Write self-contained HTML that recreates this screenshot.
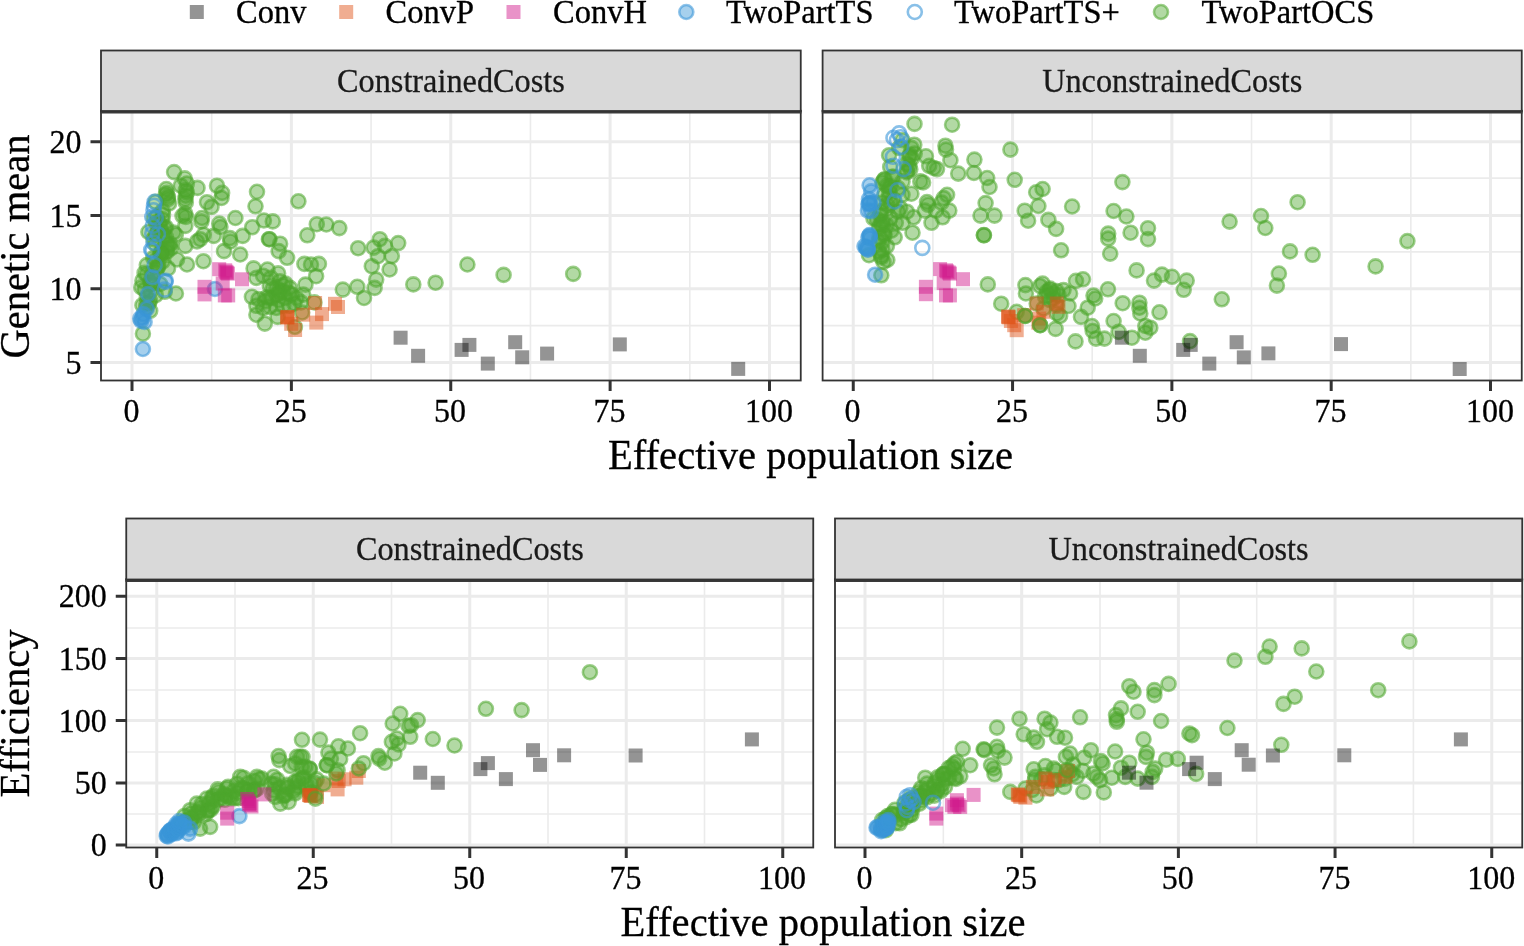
<!DOCTYPE html>
<html lang="en"><head><meta charset="utf-8"><title>Genetic mean and efficiency vs effective population size</title>
<style>html,body{margin:0;padding:0;background:#fff;}body{width:1524px;height:946px;overflow:hidden;}svg{display:block;}</style></head>
<body>
<svg width="1524" height="946" viewBox="0 0 1524 946" font-family="'Liberation Serif', serif">
<rect width="1524" height="946" fill="#fff"/>
<g id="panelA">
<rect x="101.0" y="111.0" width="699.75" height="269.5" fill="#fff"/>
<line x1="101.0" x2="800.75" y1="325.62" y2="325.62" stroke="#ebebeb" stroke-width="1.6"/>
<line x1="101.0" x2="800.75" y1="251.88" y2="251.88" stroke="#ebebeb" stroke-width="1.6"/>
<line x1="101.0" x2="800.75" y1="178.12" y2="178.12" stroke="#ebebeb" stroke-width="1.6"/>
<line x1="211.69" x2="211.69" y1="111.0" y2="380.5" stroke="#ebebeb" stroke-width="1.6"/>
<line x1="371.06" x2="371.06" y1="111.0" y2="380.5" stroke="#ebebeb" stroke-width="1.6"/>
<line x1="530.44" x2="530.44" y1="111.0" y2="380.5" stroke="#ebebeb" stroke-width="1.6"/>
<line x1="689.81" x2="689.81" y1="111.0" y2="380.5" stroke="#ebebeb" stroke-width="1.6"/>
<line x1="101.0" x2="800.75" y1="362.50" y2="362.50" stroke="#ebebeb" stroke-width="3"/>
<line x1="101.0" x2="800.75" y1="288.75" y2="288.75" stroke="#ebebeb" stroke-width="3"/>
<line x1="101.0" x2="800.75" y1="215.50" y2="215.50" stroke="#ebebeb" stroke-width="3"/>
<line x1="101.0" x2="800.75" y1="141.75" y2="141.75" stroke="#ebebeb" stroke-width="3"/>
<line x1="132.00" x2="132.00" y1="111.0" y2="380.5" stroke="#ebebeb" stroke-width="3"/>
<line x1="291.38" x2="291.38" y1="111.0" y2="380.5" stroke="#ebebeb" stroke-width="3"/>
<line x1="450.75" x2="450.75" y1="111.0" y2="380.5" stroke="#ebebeb" stroke-width="3"/>
<line x1="610.12" x2="610.12" y1="111.0" y2="380.5" stroke="#ebebeb" stroke-width="3"/>
<line x1="769.50" x2="769.50" y1="111.0" y2="380.5" stroke="#ebebeb" stroke-width="3"/>
<g id="ptsA">
<circle cx="573.2" cy="273.9" r="7.0" fill="#4DA62C" fill-opacity="0.43" stroke="#4DA62C" stroke-opacity="0.55" stroke-width="2.6"/>
<circle cx="174.1" cy="172.1" r="7.0" fill="#4DA62C" fill-opacity="0.43" stroke="#4DA62C" stroke-opacity="0.55" stroke-width="2.6"/>
<circle cx="184.7" cy="178.4" r="7.0" fill="#4DA62C" fill-opacity="0.43" stroke="#4DA62C" stroke-opacity="0.55" stroke-width="2.6"/>
<circle cx="197.5" cy="187.9" r="7.0" fill="#4DA62C" fill-opacity="0.43" stroke="#4DA62C" stroke-opacity="0.55" stroke-width="2.6"/>
<circle cx="166.3" cy="189.0" r="7.0" fill="#4DA62C" fill-opacity="0.43" stroke="#4DA62C" stroke-opacity="0.55" stroke-width="2.6"/>
<circle cx="166.8" cy="192.9" r="7.0" fill="#4DA62C" fill-opacity="0.43" stroke="#4DA62C" stroke-opacity="0.55" stroke-width="2.6"/>
<circle cx="180.8" cy="185.7" r="7.0" fill="#4DA62C" fill-opacity="0.43" stroke="#4DA62C" stroke-opacity="0.55" stroke-width="2.6"/>
<circle cx="185.8" cy="190.2" r="7.0" fill="#4DA62C" fill-opacity="0.43" stroke="#4DA62C" stroke-opacity="0.55" stroke-width="2.6"/>
<circle cx="217.0" cy="185.7" r="7.0" fill="#4DA62C" fill-opacity="0.43" stroke="#4DA62C" stroke-opacity="0.55" stroke-width="2.6"/>
<circle cx="222.1" cy="192.9" r="7.0" fill="#4DA62C" fill-opacity="0.43" stroke="#4DA62C" stroke-opacity="0.55" stroke-width="2.6"/>
<circle cx="221.5" cy="198.0" r="7.0" fill="#4DA62C" fill-opacity="0.43" stroke="#4DA62C" stroke-opacity="0.55" stroke-width="2.6"/>
<circle cx="257.0" cy="191.8" r="7.0" fill="#4DA62C" fill-opacity="0.43" stroke="#4DA62C" stroke-opacity="0.55" stroke-width="2.6"/>
<circle cx="255.5" cy="206.3" r="7.0" fill="#4DA62C" fill-opacity="0.43" stroke="#4DA62C" stroke-opacity="0.55" stroke-width="2.6"/>
<circle cx="207.0" cy="202.2" r="7.0" fill="#4DA62C" fill-opacity="0.43" stroke="#4DA62C" stroke-opacity="0.55" stroke-width="2.6"/>
<circle cx="211.5" cy="206.9" r="7.0" fill="#4DA62C" fill-opacity="0.43" stroke="#4DA62C" stroke-opacity="0.55" stroke-width="2.6"/>
<circle cx="185.8" cy="195.7" r="7.0" fill="#4DA62C" fill-opacity="0.43" stroke="#4DA62C" stroke-opacity="0.55" stroke-width="2.6"/>
<circle cx="185.8" cy="202.4" r="7.0" fill="#4DA62C" fill-opacity="0.43" stroke="#4DA62C" stroke-opacity="0.55" stroke-width="2.6"/>
<circle cx="168.0" cy="199.1" r="7.0" fill="#4DA62C" fill-opacity="0.43" stroke="#4DA62C" stroke-opacity="0.55" stroke-width="2.6"/>
<circle cx="169.1" cy="203.5" r="7.0" fill="#4DA62C" fill-opacity="0.43" stroke="#4DA62C" stroke-opacity="0.55" stroke-width="2.6"/>
<circle cx="185.3" cy="213.6" r="7.0" fill="#4DA62C" fill-opacity="0.43" stroke="#4DA62C" stroke-opacity="0.55" stroke-width="2.6"/>
<circle cx="185.8" cy="216.9" r="7.0" fill="#4DA62C" fill-opacity="0.43" stroke="#4DA62C" stroke-opacity="0.55" stroke-width="2.6"/>
<circle cx="182.5" cy="215.8" r="7.0" fill="#4DA62C" fill-opacity="0.43" stroke="#4DA62C" stroke-opacity="0.55" stroke-width="2.6"/>
<circle cx="202.0" cy="218.0" r="7.0" fill="#4DA62C" fill-opacity="0.43" stroke="#4DA62C" stroke-opacity="0.55" stroke-width="2.6"/>
<circle cx="201.4" cy="221.4" r="7.0" fill="#4DA62C" fill-opacity="0.43" stroke="#4DA62C" stroke-opacity="0.55" stroke-width="2.6"/>
<circle cx="235.4" cy="218.0" r="7.0" fill="#4DA62C" fill-opacity="0.43" stroke="#4DA62C" stroke-opacity="0.55" stroke-width="2.6"/>
<circle cx="219.3" cy="223.6" r="7.0" fill="#4DA62C" fill-opacity="0.43" stroke="#4DA62C" stroke-opacity="0.55" stroke-width="2.6"/>
<circle cx="220.4" cy="227.0" r="7.0" fill="#4DA62C" fill-opacity="0.43" stroke="#4DA62C" stroke-opacity="0.55" stroke-width="2.6"/>
<circle cx="185.3" cy="225.9" r="7.0" fill="#4DA62C" fill-opacity="0.43" stroke="#4DA62C" stroke-opacity="0.55" stroke-width="2.6"/>
<circle cx="263.9" cy="220.5" r="7.0" fill="#4DA62C" fill-opacity="0.43" stroke="#4DA62C" stroke-opacity="0.55" stroke-width="2.6"/>
<circle cx="272.8" cy="221.4" r="7.0" fill="#4DA62C" fill-opacity="0.43" stroke="#4DA62C" stroke-opacity="0.55" stroke-width="2.6"/>
<circle cx="252.2" cy="227.2" r="7.0" fill="#4DA62C" fill-opacity="0.43" stroke="#4DA62C" stroke-opacity="0.55" stroke-width="2.6"/>
<circle cx="242.7" cy="235.9" r="7.0" fill="#4DA62C" fill-opacity="0.43" stroke="#4DA62C" stroke-opacity="0.55" stroke-width="2.6"/>
<circle cx="229.9" cy="238.1" r="7.0" fill="#4DA62C" fill-opacity="0.43" stroke="#4DA62C" stroke-opacity="0.55" stroke-width="2.6"/>
<circle cx="230.4" cy="241.5" r="7.0" fill="#4DA62C" fill-opacity="0.43" stroke="#4DA62C" stroke-opacity="0.55" stroke-width="2.6"/>
<circle cx="213.7" cy="235.9" r="7.0" fill="#4DA62C" fill-opacity="0.43" stroke="#4DA62C" stroke-opacity="0.55" stroke-width="2.6"/>
<circle cx="203.7" cy="234.8" r="7.0" fill="#4DA62C" fill-opacity="0.43" stroke="#4DA62C" stroke-opacity="0.55" stroke-width="2.6"/>
<circle cx="200.3" cy="239.2" r="7.0" fill="#4DA62C" fill-opacity="0.43" stroke="#4DA62C" stroke-opacity="0.55" stroke-width="2.6"/>
<circle cx="197.0" cy="241.5" r="7.0" fill="#4DA62C" fill-opacity="0.43" stroke="#4DA62C" stroke-opacity="0.55" stroke-width="2.6"/>
<circle cx="268.9" cy="239.2" r="7.0" fill="#4DA62C" fill-opacity="0.43" stroke="#4DA62C" stroke-opacity="0.55" stroke-width="2.6"/>
<circle cx="269.5" cy="239.2" r="7.0" fill="#4DA62C" fill-opacity="0.43" stroke="#4DA62C" stroke-opacity="0.55" stroke-width="2.6"/>
<circle cx="280.1" cy="243.7" r="7.0" fill="#4DA62C" fill-opacity="0.43" stroke="#4DA62C" stroke-opacity="0.55" stroke-width="2.6"/>
<circle cx="185.3" cy="245.9" r="7.0" fill="#4DA62C" fill-opacity="0.43" stroke="#4DA62C" stroke-opacity="0.55" stroke-width="2.6"/>
<circle cx="175.8" cy="234.8" r="7.0" fill="#4DA62C" fill-opacity="0.43" stroke="#4DA62C" stroke-opacity="0.55" stroke-width="2.6"/>
<circle cx="173.5" cy="232.5" r="7.0" fill="#4DA62C" fill-opacity="0.43" stroke="#4DA62C" stroke-opacity="0.55" stroke-width="2.6"/>
<circle cx="148.4" cy="232.0" r="7.0" fill="#4DA62C" fill-opacity="0.43" stroke="#4DA62C" stroke-opacity="0.55" stroke-width="2.6"/>
<circle cx="156.8" cy="216.9" r="7.0" fill="#4DA62C" fill-opacity="0.43" stroke="#4DA62C" stroke-opacity="0.55" stroke-width="2.6"/>
<circle cx="159.0" cy="222.5" r="7.0" fill="#4DA62C" fill-opacity="0.43" stroke="#4DA62C" stroke-opacity="0.55" stroke-width="2.6"/>
<circle cx="162.4" cy="219.2" r="7.0" fill="#4DA62C" fill-opacity="0.43" stroke="#4DA62C" stroke-opacity="0.55" stroke-width="2.6"/>
<circle cx="164.6" cy="228.1" r="7.0" fill="#4DA62C" fill-opacity="0.43" stroke="#4DA62C" stroke-opacity="0.55" stroke-width="2.6"/>
<circle cx="157.9" cy="230.3" r="7.0" fill="#4DA62C" fill-opacity="0.43" stroke="#4DA62C" stroke-opacity="0.55" stroke-width="2.6"/>
<circle cx="155.7" cy="234.8" r="7.0" fill="#4DA62C" fill-opacity="0.43" stroke="#4DA62C" stroke-opacity="0.55" stroke-width="2.6"/>
<circle cx="153.5" cy="239.2" r="7.0" fill="#4DA62C" fill-opacity="0.43" stroke="#4DA62C" stroke-opacity="0.55" stroke-width="2.6"/>
<circle cx="166.8" cy="248.2" r="7.0" fill="#4DA62C" fill-opacity="0.43" stroke="#4DA62C" stroke-opacity="0.55" stroke-width="2.6"/>
<circle cx="170.2" cy="243.7" r="7.0" fill="#4DA62C" fill-opacity="0.43" stroke="#4DA62C" stroke-opacity="0.55" stroke-width="2.6"/>
<circle cx="155.7" cy="201.9" r="7.0" fill="#4DA62C" fill-opacity="0.43" stroke="#4DA62C" stroke-opacity="0.55" stroke-width="2.6"/>
<circle cx="142.9" cy="333.7" r="7.0" fill="#4DA62C" fill-opacity="0.43" stroke="#4DA62C" stroke-opacity="0.55" stroke-width="2.6"/>
<circle cx="175.9" cy="293.5" r="7.0" fill="#4DA62C" fill-opacity="0.43" stroke="#4DA62C" stroke-opacity="0.55" stroke-width="2.6"/>
<circle cx="187.0" cy="264.5" r="7.0" fill="#4DA62C" fill-opacity="0.43" stroke="#4DA62C" stroke-opacity="0.55" stroke-width="2.6"/>
<circle cx="177.0" cy="259.5" r="7.0" fill="#4DA62C" fill-opacity="0.43" stroke="#4DA62C" stroke-opacity="0.55" stroke-width="2.6"/>
<circle cx="168.0" cy="268.4" r="7.0" fill="#4DA62C" fill-opacity="0.43" stroke="#4DA62C" stroke-opacity="0.55" stroke-width="2.6"/>
<circle cx="146.8" cy="265.1" r="7.0" fill="#4DA62C" fill-opacity="0.43" stroke="#4DA62C" stroke-opacity="0.55" stroke-width="2.6"/>
<circle cx="144.6" cy="272.9" r="7.0" fill="#4DA62C" fill-opacity="0.43" stroke="#4DA62C" stroke-opacity="0.55" stroke-width="2.6"/>
<circle cx="142.4" cy="280.7" r="7.0" fill="#4DA62C" fill-opacity="0.43" stroke="#4DA62C" stroke-opacity="0.55" stroke-width="2.6"/>
<circle cx="144.6" cy="289.6" r="7.0" fill="#4DA62C" fill-opacity="0.43" stroke="#4DA62C" stroke-opacity="0.55" stroke-width="2.6"/>
<circle cx="146.8" cy="297.4" r="7.0" fill="#4DA62C" fill-opacity="0.43" stroke="#4DA62C" stroke-opacity="0.55" stroke-width="2.6"/>
<circle cx="142.4" cy="305.2" r="7.0" fill="#4DA62C" fill-opacity="0.43" stroke="#4DA62C" stroke-opacity="0.55" stroke-width="2.6"/>
<circle cx="150.2" cy="310.8" r="7.0" fill="#4DA62C" fill-opacity="0.43" stroke="#4DA62C" stroke-opacity="0.55" stroke-width="2.6"/>
<circle cx="155.8" cy="259.5" r="7.0" fill="#4DA62C" fill-opacity="0.43" stroke="#4DA62C" stroke-opacity="0.55" stroke-width="2.6"/>
<circle cx="162.5" cy="255.0" r="7.0" fill="#4DA62C" fill-opacity="0.43" stroke="#4DA62C" stroke-opacity="0.55" stroke-width="2.6"/>
<circle cx="166.9" cy="251.7" r="7.0" fill="#4DA62C" fill-opacity="0.43" stroke="#4DA62C" stroke-opacity="0.55" stroke-width="2.6"/>
<circle cx="152.4" cy="272.9" r="7.0" fill="#4DA62C" fill-opacity="0.43" stroke="#4DA62C" stroke-opacity="0.55" stroke-width="2.6"/>
<circle cx="150.2" cy="281.8" r="7.0" fill="#4DA62C" fill-opacity="0.43" stroke="#4DA62C" stroke-opacity="0.55" stroke-width="2.6"/>
<circle cx="158.0" cy="267.3" r="7.0" fill="#4DA62C" fill-opacity="0.43" stroke="#4DA62C" stroke-opacity="0.55" stroke-width="2.6"/>
<circle cx="162.5" cy="261.7" r="7.0" fill="#4DA62C" fill-opacity="0.43" stroke="#4DA62C" stroke-opacity="0.55" stroke-width="2.6"/>
<circle cx="155.8" cy="295.2" r="7.0" fill="#4DA62C" fill-opacity="0.43" stroke="#4DA62C" stroke-opacity="0.55" stroke-width="2.6"/>
<circle cx="149.1" cy="303.0" r="7.0" fill="#4DA62C" fill-opacity="0.43" stroke="#4DA62C" stroke-opacity="0.55" stroke-width="2.6"/>
<circle cx="141.3" cy="287.4" r="7.0" fill="#4DA62C" fill-opacity="0.43" stroke="#4DA62C" stroke-opacity="0.55" stroke-width="2.6"/>
<circle cx="160.2" cy="284.0" r="7.0" fill="#4DA62C" fill-opacity="0.43" stroke="#4DA62C" stroke-opacity="0.55" stroke-width="2.6"/>
<circle cx="164.7" cy="291.8" r="7.0" fill="#4DA62C" fill-opacity="0.43" stroke="#4DA62C" stroke-opacity="0.55" stroke-width="2.6"/>
<circle cx="253.6" cy="268.4" r="7.0" fill="#4DA62C" fill-opacity="0.43" stroke="#4DA62C" stroke-opacity="0.55" stroke-width="2.6"/>
<circle cx="267.5" cy="269.5" r="7.0" fill="#4DA62C" fill-opacity="0.43" stroke="#4DA62C" stroke-opacity="0.55" stroke-width="2.6"/>
<circle cx="278.1" cy="273.4" r="7.0" fill="#4DA62C" fill-opacity="0.43" stroke="#4DA62C" stroke-opacity="0.55" stroke-width="2.6"/>
<circle cx="256.4" cy="277.9" r="7.0" fill="#4DA62C" fill-opacity="0.43" stroke="#4DA62C" stroke-opacity="0.55" stroke-width="2.6"/>
<circle cx="263.1" cy="275.7" r="7.0" fill="#4DA62C" fill-opacity="0.43" stroke="#4DA62C" stroke-opacity="0.55" stroke-width="2.6"/>
<circle cx="270.9" cy="277.9" r="7.0" fill="#4DA62C" fill-opacity="0.43" stroke="#4DA62C" stroke-opacity="0.55" stroke-width="2.6"/>
<circle cx="279.8" cy="281.2" r="7.0" fill="#4DA62C" fill-opacity="0.43" stroke="#4DA62C" stroke-opacity="0.55" stroke-width="2.6"/>
<circle cx="285.4" cy="283.5" r="7.0" fill="#4DA62C" fill-opacity="0.43" stroke="#4DA62C" stroke-opacity="0.55" stroke-width="2.6"/>
<circle cx="269.8" cy="285.7" r="7.0" fill="#4DA62C" fill-opacity="0.43" stroke="#4DA62C" stroke-opacity="0.55" stroke-width="2.6"/>
<circle cx="276.5" cy="287.9" r="7.0" fill="#4DA62C" fill-opacity="0.43" stroke="#4DA62C" stroke-opacity="0.55" stroke-width="2.6"/>
<circle cx="283.2" cy="291.3" r="7.0" fill="#4DA62C" fill-opacity="0.43" stroke="#4DA62C" stroke-opacity="0.55" stroke-width="2.6"/>
<circle cx="289.9" cy="287.9" r="7.0" fill="#4DA62C" fill-opacity="0.43" stroke="#4DA62C" stroke-opacity="0.55" stroke-width="2.6"/>
<circle cx="251.9" cy="296.8" r="7.0" fill="#4DA62C" fill-opacity="0.43" stroke="#4DA62C" stroke-opacity="0.55" stroke-width="2.6"/>
<circle cx="258.6" cy="299.1" r="7.0" fill="#4DA62C" fill-opacity="0.43" stroke="#4DA62C" stroke-opacity="0.55" stroke-width="2.6"/>
<circle cx="265.3" cy="301.3" r="7.0" fill="#4DA62C" fill-opacity="0.43" stroke="#4DA62C" stroke-opacity="0.55" stroke-width="2.6"/>
<circle cx="272.0" cy="298.0" r="7.0" fill="#4DA62C" fill-opacity="0.43" stroke="#4DA62C" stroke-opacity="0.55" stroke-width="2.6"/>
<circle cx="278.7" cy="300.2" r="7.0" fill="#4DA62C" fill-opacity="0.43" stroke="#4DA62C" stroke-opacity="0.55" stroke-width="2.6"/>
<circle cx="285.4" cy="298.0" r="7.0" fill="#4DA62C" fill-opacity="0.43" stroke="#4DA62C" stroke-opacity="0.55" stroke-width="2.6"/>
<circle cx="292.1" cy="294.6" r="7.0" fill="#4DA62C" fill-opacity="0.43" stroke="#4DA62C" stroke-opacity="0.55" stroke-width="2.6"/>
<circle cx="296.5" cy="298.0" r="7.0" fill="#4DA62C" fill-opacity="0.43" stroke="#4DA62C" stroke-opacity="0.55" stroke-width="2.6"/>
<circle cx="303.2" cy="294.6" r="7.0" fill="#4DA62C" fill-opacity="0.43" stroke="#4DA62C" stroke-opacity="0.55" stroke-width="2.6"/>
<circle cx="301.0" cy="302.4" r="7.0" fill="#4DA62C" fill-opacity="0.43" stroke="#4DA62C" stroke-opacity="0.55" stroke-width="2.6"/>
<circle cx="294.3" cy="303.5" r="7.0" fill="#4DA62C" fill-opacity="0.43" stroke="#4DA62C" stroke-opacity="0.55" stroke-width="2.6"/>
<circle cx="256.4" cy="305.8" r="7.0" fill="#4DA62C" fill-opacity="0.43" stroke="#4DA62C" stroke-opacity="0.55" stroke-width="2.6"/>
<circle cx="263.1" cy="308.0" r="7.0" fill="#4DA62C" fill-opacity="0.43" stroke="#4DA62C" stroke-opacity="0.55" stroke-width="2.6"/>
<circle cx="269.8" cy="306.9" r="7.0" fill="#4DA62C" fill-opacity="0.43" stroke="#4DA62C" stroke-opacity="0.55" stroke-width="2.6"/>
<circle cx="276.5" cy="308.0" r="7.0" fill="#4DA62C" fill-opacity="0.43" stroke="#4DA62C" stroke-opacity="0.55" stroke-width="2.6"/>
<circle cx="283.2" cy="305.8" r="7.0" fill="#4DA62C" fill-opacity="0.43" stroke="#4DA62C" stroke-opacity="0.55" stroke-width="2.6"/>
<circle cx="256.4" cy="314.7" r="7.0" fill="#4DA62C" fill-opacity="0.43" stroke="#4DA62C" stroke-opacity="0.55" stroke-width="2.6"/>
<circle cx="264.8" cy="323.6" r="7.0" fill="#4DA62C" fill-opacity="0.43" stroke="#4DA62C" stroke-opacity="0.55" stroke-width="2.6"/>
<circle cx="277.6" cy="316.9" r="7.0" fill="#4DA62C" fill-opacity="0.43" stroke="#4DA62C" stroke-opacity="0.55" stroke-width="2.6"/>
<circle cx="289.3" cy="305.8" r="7.0" fill="#4DA62C" fill-opacity="0.43" stroke="#4DA62C" stroke-opacity="0.55" stroke-width="2.6"/>
<circle cx="305.5" cy="284.6" r="7.0" fill="#4DA62C" fill-opacity="0.43" stroke="#4DA62C" stroke-opacity="0.55" stroke-width="2.6"/>
<circle cx="316.1" cy="276.2" r="7.0" fill="#4DA62C" fill-opacity="0.43" stroke="#4DA62C" stroke-opacity="0.55" stroke-width="2.6"/>
<circle cx="304.4" cy="263.9" r="7.0" fill="#4DA62C" fill-opacity="0.43" stroke="#4DA62C" stroke-opacity="0.55" stroke-width="2.6"/>
<circle cx="311.0" cy="264.5" r="7.0" fill="#4DA62C" fill-opacity="0.43" stroke="#4DA62C" stroke-opacity="0.55" stroke-width="2.6"/>
<circle cx="318.9" cy="263.9" r="7.0" fill="#4DA62C" fill-opacity="0.43" stroke="#4DA62C" stroke-opacity="0.55" stroke-width="2.6"/>
<circle cx="287.1" cy="257.8" r="7.0" fill="#4DA62C" fill-opacity="0.43" stroke="#4DA62C" stroke-opacity="0.55" stroke-width="2.6"/>
<circle cx="278.7" cy="251.1" r="7.0" fill="#4DA62C" fill-opacity="0.43" stroke="#4DA62C" stroke-opacity="0.55" stroke-width="2.6"/>
<circle cx="240.2" cy="254.5" r="7.0" fill="#4DA62C" fill-opacity="0.43" stroke="#4DA62C" stroke-opacity="0.55" stroke-width="2.6"/>
<circle cx="224.0" cy="251.1" r="7.0" fill="#4DA62C" fill-opacity="0.43" stroke="#4DA62C" stroke-opacity="0.55" stroke-width="2.6"/>
<circle cx="203.4" cy="261.2" r="7.0" fill="#4DA62C" fill-opacity="0.43" stroke="#4DA62C" stroke-opacity="0.55" stroke-width="2.6"/>
<circle cx="342.8" cy="289.6" r="7.0" fill="#4DA62C" fill-opacity="0.43" stroke="#4DA62C" stroke-opacity="0.55" stroke-width="2.6"/>
<circle cx="294.9" cy="327.0" r="7.0" fill="#4DA62C" fill-opacity="0.43" stroke="#4DA62C" stroke-opacity="0.55" stroke-width="2.6"/>
<circle cx="302.1" cy="312.5" r="7.0" fill="#4DA62C" fill-opacity="0.43" stroke="#4DA62C" stroke-opacity="0.55" stroke-width="2.6"/>
<circle cx="314.4" cy="302.4" r="7.0" fill="#4DA62C" fill-opacity="0.43" stroke="#4DA62C" stroke-opacity="0.55" stroke-width="2.6"/>
<circle cx="298.4" cy="201.3" r="7.0" fill="#4DA62C" fill-opacity="0.43" stroke="#4DA62C" stroke-opacity="0.55" stroke-width="2.6"/>
<circle cx="316.8" cy="224.2" r="7.0" fill="#4DA62C" fill-opacity="0.43" stroke="#4DA62C" stroke-opacity="0.55" stroke-width="2.6"/>
<circle cx="326.3" cy="224.5" r="7.0" fill="#4DA62C" fill-opacity="0.43" stroke="#4DA62C" stroke-opacity="0.55" stroke-width="2.6"/>
<circle cx="339.3" cy="228.1" r="7.0" fill="#4DA62C" fill-opacity="0.43" stroke="#4DA62C" stroke-opacity="0.55" stroke-width="2.6"/>
<circle cx="307.3" cy="235.3" r="7.0" fill="#4DA62C" fill-opacity="0.43" stroke="#4DA62C" stroke-opacity="0.55" stroke-width="2.6"/>
<circle cx="358.1" cy="248.2" r="7.0" fill="#4DA62C" fill-opacity="0.43" stroke="#4DA62C" stroke-opacity="0.55" stroke-width="2.6"/>
<circle cx="373.7" cy="247.6" r="7.0" fill="#4DA62C" fill-opacity="0.43" stroke="#4DA62C" stroke-opacity="0.55" stroke-width="2.6"/>
<circle cx="379.8" cy="239.2" r="7.0" fill="#4DA62C" fill-opacity="0.43" stroke="#4DA62C" stroke-opacity="0.55" stroke-width="2.6"/>
<circle cx="384.9" cy="245.9" r="7.0" fill="#4DA62C" fill-opacity="0.43" stroke="#4DA62C" stroke-opacity="0.55" stroke-width="2.6"/>
<circle cx="398.2" cy="243.1" r="7.0" fill="#4DA62C" fill-opacity="0.43" stroke="#4DA62C" stroke-opacity="0.55" stroke-width="2.6"/>
<circle cx="371.8" cy="266.2" r="7.0" fill="#4DA62C" fill-opacity="0.43" stroke="#4DA62C" stroke-opacity="0.55" stroke-width="2.6"/>
<circle cx="377.9" cy="256.2" r="7.0" fill="#4DA62C" fill-opacity="0.43" stroke="#4DA62C" stroke-opacity="0.55" stroke-width="2.6"/>
<circle cx="391.8" cy="256.2" r="7.0" fill="#4DA62C" fill-opacity="0.43" stroke="#4DA62C" stroke-opacity="0.55" stroke-width="2.6"/>
<circle cx="389.6" cy="269.5" r="7.0" fill="#4DA62C" fill-opacity="0.43" stroke="#4DA62C" stroke-opacity="0.55" stroke-width="2.6"/>
<circle cx="376.2" cy="279.6" r="7.0" fill="#4DA62C" fill-opacity="0.43" stroke="#4DA62C" stroke-opacity="0.55" stroke-width="2.6"/>
<circle cx="374.6" cy="287.9" r="7.0" fill="#4DA62C" fill-opacity="0.43" stroke="#4DA62C" stroke-opacity="0.55" stroke-width="2.6"/>
<circle cx="357.3" cy="286.8" r="7.0" fill="#4DA62C" fill-opacity="0.43" stroke="#4DA62C" stroke-opacity="0.55" stroke-width="2.6"/>
<circle cx="364.0" cy="298.0" r="7.0" fill="#4DA62C" fill-opacity="0.43" stroke="#4DA62C" stroke-opacity="0.55" stroke-width="2.6"/>
<circle cx="413.3" cy="284.4" r="7.0" fill="#4DA62C" fill-opacity="0.43" stroke="#4DA62C" stroke-opacity="0.55" stroke-width="2.6"/>
<circle cx="435.6" cy="282.7" r="7.0" fill="#4DA62C" fill-opacity="0.43" stroke="#4DA62C" stroke-opacity="0.55" stroke-width="2.6"/>
<circle cx="467.4" cy="264.5" r="7.0" fill="#4DA62C" fill-opacity="0.43" stroke="#4DA62C" stroke-opacity="0.55" stroke-width="2.6"/>
<circle cx="503.6" cy="274.9" r="7.0" fill="#4DA62C" fill-opacity="0.43" stroke="#4DA62C" stroke-opacity="0.55" stroke-width="2.6"/>
<circle cx="162.7" cy="210.9" r="7.0" fill="#4DA62C" fill-opacity="0.43" stroke="#4DA62C" stroke-opacity="0.55" stroke-width="2.6"/>
<circle cx="163.0" cy="214.8" r="7.0" fill="#4DA62C" fill-opacity="0.43" stroke="#4DA62C" stroke-opacity="0.55" stroke-width="2.6"/>
<circle cx="153.8" cy="218.3" r="7.0" fill="#4DA62C" fill-opacity="0.43" stroke="#4DA62C" stroke-opacity="0.55" stroke-width="2.6"/>
<circle cx="156.1" cy="222.6" r="7.0" fill="#4DA62C" fill-opacity="0.43" stroke="#4DA62C" stroke-opacity="0.55" stroke-width="2.6"/>
<circle cx="160.1" cy="225.6" r="7.0" fill="#4DA62C" fill-opacity="0.43" stroke="#4DA62C" stroke-opacity="0.55" stroke-width="2.6"/>
<circle cx="166.0" cy="227.3" r="7.0" fill="#4DA62C" fill-opacity="0.43" stroke="#4DA62C" stroke-opacity="0.55" stroke-width="2.6"/>
<circle cx="161.9" cy="231.8" r="7.0" fill="#4DA62C" fill-opacity="0.43" stroke="#4DA62C" stroke-opacity="0.55" stroke-width="2.6"/>
<circle cx="163.4" cy="236.4" r="7.0" fill="#4DA62C" fill-opacity="0.43" stroke="#4DA62C" stroke-opacity="0.55" stroke-width="2.6"/>
<circle cx="165.8" cy="236.9" r="7.0" fill="#4DA62C" fill-opacity="0.43" stroke="#4DA62C" stroke-opacity="0.55" stroke-width="2.6"/>
<circle cx="155.5" cy="244.2" r="7.0" fill="#4DA62C" fill-opacity="0.43" stroke="#4DA62C" stroke-opacity="0.55" stroke-width="2.6"/>
<circle cx="167.4" cy="244.5" r="7.0" fill="#4DA62C" fill-opacity="0.43" stroke="#4DA62C" stroke-opacity="0.55" stroke-width="2.6"/>
<circle cx="170.9" cy="248.5" r="7.0" fill="#4DA62C" fill-opacity="0.43" stroke="#4DA62C" stroke-opacity="0.55" stroke-width="2.6"/>
<circle cx="161.4" cy="250.6" r="7.0" fill="#4DA62C" fill-opacity="0.43" stroke="#4DA62C" stroke-opacity="0.55" stroke-width="2.6"/>
<circle cx="160.7" cy="253.5" r="7.0" fill="#4DA62C" fill-opacity="0.43" stroke="#4DA62C" stroke-opacity="0.55" stroke-width="2.6"/>
<circle cx="165.7" cy="194.6" r="7.0" fill="#4DA62C" fill-opacity="0.43" stroke="#4DA62C" stroke-opacity="0.55" stroke-width="2.6"/>
<circle cx="168.0" cy="196.8" r="7.0" fill="#4DA62C" fill-opacity="0.43" stroke="#4DA62C" stroke-opacity="0.55" stroke-width="2.6"/>
<circle cx="186.9" cy="192.4" r="7.0" fill="#4DA62C" fill-opacity="0.43" stroke="#4DA62C" stroke-opacity="0.55" stroke-width="2.6"/>
<circle cx="185.3" cy="199.1" r="7.0" fill="#4DA62C" fill-opacity="0.43" stroke="#4DA62C" stroke-opacity="0.55" stroke-width="2.6"/>
<circle cx="186.9" cy="183.5" r="7.0" fill="#4DA62C" fill-opacity="0.43" stroke="#4DA62C" stroke-opacity="0.55" stroke-width="2.6"/>
<circle cx="169.0" cy="246.3" r="7.0" fill="#4DA62C" fill-opacity="0.43" stroke="#4DA62C" stroke-opacity="0.55" stroke-width="2.6"/>
<circle cx="161.2" cy="253.3" r="7.0" fill="#4DA62C" fill-opacity="0.43" stroke="#4DA62C" stroke-opacity="0.55" stroke-width="2.6"/>
<circle cx="160.4" cy="254.3" r="7.0" fill="#4DA62C" fill-opacity="0.43" stroke="#4DA62C" stroke-opacity="0.55" stroke-width="2.6"/>
<circle cx="153.2" cy="258.0" r="7.0" fill="#4DA62C" fill-opacity="0.43" stroke="#4DA62C" stroke-opacity="0.55" stroke-width="2.6"/>
<circle cx="158.3" cy="265.3" r="7.0" fill="#4DA62C" fill-opacity="0.43" stroke="#4DA62C" stroke-opacity="0.55" stroke-width="2.6"/>
<circle cx="156.7" cy="268.7" r="7.0" fill="#4DA62C" fill-opacity="0.43" stroke="#4DA62C" stroke-opacity="0.55" stroke-width="2.6"/>
<circle cx="146.7" cy="274.3" r="7.0" fill="#4DA62C" fill-opacity="0.43" stroke="#4DA62C" stroke-opacity="0.55" stroke-width="2.6"/>
<circle cx="152.7" cy="276.5" r="7.0" fill="#4DA62C" fill-opacity="0.43" stroke="#4DA62C" stroke-opacity="0.55" stroke-width="2.6"/>
<circle cx="151.1" cy="283.9" r="7.0" fill="#4DA62C" fill-opacity="0.43" stroke="#4DA62C" stroke-opacity="0.55" stroke-width="2.6"/>
<circle cx="151.6" cy="283.8" r="7.0" fill="#4DA62C" fill-opacity="0.43" stroke="#4DA62C" stroke-opacity="0.55" stroke-width="2.6"/>
<circle cx="150.4" cy="291.1" r="7.0" fill="#4DA62C" fill-opacity="0.43" stroke="#4DA62C" stroke-opacity="0.55" stroke-width="2.6"/>
<circle cx="150.0" cy="300.3" r="7.0" fill="#4DA62C" fill-opacity="0.43" stroke="#4DA62C" stroke-opacity="0.55" stroke-width="2.6"/>
<circle cx="146.5" cy="303.6" r="7.0" fill="#4DA62C" fill-opacity="0.43" stroke="#4DA62C" stroke-opacity="0.55" stroke-width="2.6"/>
<circle cx="146.2" cy="307.8" r="7.0" fill="#4DA62C" fill-opacity="0.43" stroke="#4DA62C" stroke-opacity="0.55" stroke-width="2.6"/>
<circle cx="266.7" cy="297.3" r="7.0" fill="#4DA62C" fill-opacity="0.43" stroke="#4DA62C" stroke-opacity="0.55" stroke-width="2.6"/>
<circle cx="269.4" cy="297.7" r="7.0" fill="#4DA62C" fill-opacity="0.43" stroke="#4DA62C" stroke-opacity="0.55" stroke-width="2.6"/>
<circle cx="272.9" cy="288.3" r="7.0" fill="#4DA62C" fill-opacity="0.43" stroke="#4DA62C" stroke-opacity="0.55" stroke-width="2.6"/>
<circle cx="277.0" cy="294.7" r="7.0" fill="#4DA62C" fill-opacity="0.43" stroke="#4DA62C" stroke-opacity="0.55" stroke-width="2.6"/>
<circle cx="279.6" cy="293.5" r="7.0" fill="#4DA62C" fill-opacity="0.43" stroke="#4DA62C" stroke-opacity="0.55" stroke-width="2.6"/>
<circle cx="279.2" cy="290.6" r="7.0" fill="#4DA62C" fill-opacity="0.43" stroke="#4DA62C" stroke-opacity="0.55" stroke-width="2.6"/>
<circle cx="283.7" cy="285.6" r="7.0" fill="#4DA62C" fill-opacity="0.43" stroke="#4DA62C" stroke-opacity="0.55" stroke-width="2.6"/>
<circle cx="288.9" cy="293.1" r="7.0" fill="#4DA62C" fill-opacity="0.43" stroke="#4DA62C" stroke-opacity="0.55" stroke-width="2.6"/>
<circle cx="214.9" cy="289.0" r="7.0" fill="#3A96D8" fill-opacity="0.45" stroke="#3A96D8" stroke-opacity="0.57" stroke-width="2.6"/>
<rect x="393.6" y="330.7" width="14.0" height="14.0" fill="#000000" fill-opacity="0.42"/>
<rect x="411.1" y="348.8" width="14.0" height="14.0" fill="#000000" fill-opacity="0.42"/>
<rect x="454.6" y="342.9" width="14.0" height="14.0" fill="#000000" fill-opacity="0.42"/>
<rect x="462.4" y="337.9" width="14.0" height="14.0" fill="#000000" fill-opacity="0.42"/>
<rect x="480.8" y="356.6" width="14.0" height="14.0" fill="#000000" fill-opacity="0.42"/>
<rect x="508.2" y="335.2" width="14.0" height="14.0" fill="#000000" fill-opacity="0.42"/>
<rect x="515.2" y="350.3" width="14.0" height="14.0" fill="#000000" fill-opacity="0.42"/>
<rect x="540.1" y="346.6" width="14.0" height="14.0" fill="#000000" fill-opacity="0.42"/>
<rect x="612.8" y="337.4" width="14.0" height="14.0" fill="#000000" fill-opacity="0.42"/>
<rect x="731.2" y="361.9" width="14.0" height="14.0" fill="#000000" fill-opacity="0.42"/>
<rect x="280.3" y="310.5" width="14.0" height="14.0" fill="#E0541A" fill-opacity="0.48"/>
<rect x="280.6" y="309.9" width="14.0" height="14.0" fill="#E0541A" fill-opacity="0.48"/>
<rect x="280.1" y="310.3" width="14.0" height="14.0" fill="#E0541A" fill-opacity="0.48"/>
<rect x="284.2" y="316.8" width="14.0" height="14.0" fill="#E0541A" fill-opacity="0.48"/>
<rect x="288.1" y="323.0" width="14.0" height="14.0" fill="#E0541A" fill-opacity="0.48"/>
<rect x="296.2" y="307.7" width="14.0" height="14.0" fill="#E0541A" fill-opacity="0.48"/>
<rect x="308.1" y="296.0" width="14.0" height="14.0" fill="#E0541A" fill-opacity="0.48"/>
<rect x="315.0" y="307.1" width="14.0" height="14.0" fill="#E0541A" fill-opacity="0.48"/>
<rect x="309.3" y="315.6" width="14.0" height="14.0" fill="#E0541A" fill-opacity="0.48"/>
<rect x="328.0" y="296.8" width="14.0" height="14.0" fill="#E0541A" fill-opacity="0.48"/>
<rect x="331.0" y="300.0" width="14.0" height="14.0" fill="#E0541A" fill-opacity="0.48"/>
<rect x="212.2" y="262.2" width="14.0" height="14.0" fill="#D01C8B" fill-opacity="0.48"/>
<rect x="218.2" y="263.3" width="14.0" height="14.0" fill="#D01C8B" fill-opacity="0.48"/>
<rect x="220.9" y="266.6" width="14.0" height="14.0" fill="#D01C8B" fill-opacity="0.48"/>
<rect x="219.3" y="264.8" width="14.0" height="14.0" fill="#D01C8B" fill-opacity="0.48"/>
<rect x="219.8" y="265.9" width="14.0" height="14.0" fill="#D01C8B" fill-opacity="0.48"/>
<rect x="235.0" y="272.3" width="14.0" height="14.0" fill="#D01C8B" fill-opacity="0.48"/>
<rect x="197.5" y="279.8" width="14.0" height="14.0" fill="#D01C8B" fill-opacity="0.48"/>
<rect x="197.5" y="287.4" width="14.0" height="14.0" fill="#D01C8B" fill-opacity="0.48"/>
<rect x="215.7" y="276.5" width="14.0" height="14.0" fill="#D01C8B" fill-opacity="0.48"/>
<rect x="217.8" y="288.4" width="14.0" height="14.0" fill="#D01C8B" fill-opacity="0.48"/>
<rect x="221.2" y="288.4" width="14.0" height="14.0" fill="#D01C8B" fill-opacity="0.48"/>
<circle cx="142.4" cy="317.5" r="7.0" fill="#3A96D8" fill-opacity="0.45" stroke="#3A96D8" stroke-opacity="0.57" stroke-width="2.6"/>
<circle cx="141.3" cy="320.9" r="7.0" fill="#3A96D8" fill-opacity="0.45" stroke="#3A96D8" stroke-opacity="0.57" stroke-width="2.6"/>
<circle cx="143.5" cy="314.2" r="7.0" fill="#3A96D8" fill-opacity="0.45" stroke="#3A96D8" stroke-opacity="0.57" stroke-width="2.6"/>
<circle cx="144.6" cy="322.0" r="7.0" fill="#3A96D8" fill-opacity="0.45" stroke="#3A96D8" stroke-opacity="0.57" stroke-width="2.6"/>
<circle cx="140.2" cy="318.6" r="7.0" fill="#3A96D8" fill-opacity="0.45" stroke="#3A96D8" stroke-opacity="0.57" stroke-width="2.6"/>
<circle cx="146.8" cy="308.6" r="7.0" fill="#3A96D8" fill-opacity="0.45" stroke="#3A96D8" stroke-opacity="0.57" stroke-width="2.6"/>
<circle cx="148.0" cy="294.1" r="7.0" fill="#3A96D8" fill-opacity="0.45" stroke="#3A96D8" stroke-opacity="0.57" stroke-width="2.6"/>
<circle cx="152.4" cy="277.3" r="7.0" fill="#3A96D8" fill-opacity="0.45" stroke="#3A96D8" stroke-opacity="0.57" stroke-width="2.6"/>
<circle cx="165.8" cy="280.7" r="7.0" fill="#3A96D8" fill-opacity="0.45" stroke="#3A96D8" stroke-opacity="0.57" stroke-width="2.6"/>
<circle cx="142.9" cy="349.0" r="7.0" fill="#3A96D8" fill-opacity="0.45" stroke="#3A96D8" stroke-opacity="0.57" stroke-width="2.6"/>
<circle cx="154.6" cy="201.9" r="7.0" fill="none" stroke="#3A96D8" stroke-opacity="0.6" stroke-width="2.6"/>
<circle cx="153.5" cy="210.2" r="7.0" fill="none" stroke="#3A96D8" stroke-opacity="0.6" stroke-width="2.6"/>
<circle cx="152.3" cy="216.9" r="7.0" fill="none" stroke="#3A96D8" stroke-opacity="0.6" stroke-width="2.6"/>
<circle cx="155.7" cy="218.0" r="7.0" fill="none" stroke="#3A96D8" stroke-opacity="0.6" stroke-width="2.6"/>
<circle cx="152.3" cy="233.7" r="7.0" fill="none" stroke="#3A96D8" stroke-opacity="0.6" stroke-width="2.6"/>
<circle cx="157.9" cy="234.2" r="7.0" fill="none" stroke="#3A96D8" stroke-opacity="0.6" stroke-width="2.6"/>
<circle cx="151.2" cy="249.8" r="7.0" fill="none" stroke="#3A96D8" stroke-opacity="0.6" stroke-width="2.6"/>
<circle cx="152.4" cy="250.6" r="7.0" fill="none" stroke="#3A96D8" stroke-opacity="0.6" stroke-width="2.6"/>
<circle cx="154.7" cy="265.1" r="7.0" fill="none" stroke="#3A96D8" stroke-opacity="0.6" stroke-width="2.6"/>
<circle cx="164.7" cy="289.6" r="7.0" fill="none" stroke="#3A96D8" stroke-opacity="0.6" stroke-width="2.6"/>
<circle cx="165.3" cy="281.8" r="7.0" fill="none" stroke="#3A96D8" stroke-opacity="0.6" stroke-width="2.6"/>
<circle cx="154.0" cy="205.8" r="7.0" fill="none" stroke="#3A96D8" stroke-opacity="0.6" stroke-width="2.6"/>
<circle cx="152.9" cy="225.9" r="7.0" fill="none" stroke="#3A96D8" stroke-opacity="0.6" stroke-width="2.6"/>
<circle cx="153.5" cy="242.6" r="7.0" fill="none" stroke="#3A96D8" stroke-opacity="0.6" stroke-width="2.6"/>
</g>
<rect x="101.0" y="111.0" width="699.75" height="269.5" fill="none" stroke="#333" stroke-width="1.8"/>
<line x1="100.2" x2="801.55" y1="111.6" y2="111.6" stroke="#3a3a3a" stroke-width="3.6"/>
<rect x="101.0" y="50.5" width="699.75" height="60.5" fill="#d9d9d9" stroke="#333" stroke-width="1.8"/>
<text transform="translate(450.9,91.5) scale(1,1.035)" font-size="32.3" text-anchor="middle" fill="#1a1a1a" stroke="#1a1a1a" stroke-width="0.25">ConstrainedCosts</text>
<line x1="132.00" x2="132.00" y1="380.5" y2="391.0" stroke="#333" stroke-width="3"/>
<text transform="translate(131.4,421.7) scale(1,1.06)" font-size="32" text-anchor="middle" fill="#000" stroke="#000" stroke-width="0.3">0</text>
<line x1="291.38" x2="291.38" y1="380.5" y2="391.0" stroke="#333" stroke-width="3"/>
<text transform="translate(290.8,421.7) scale(1,1.06)" font-size="32" text-anchor="middle" fill="#000" stroke="#000" stroke-width="0.3">25</text>
<line x1="450.75" x2="450.75" y1="380.5" y2="391.0" stroke="#333" stroke-width="3"/>
<text transform="translate(450.1,421.7) scale(1,1.06)" font-size="32" text-anchor="middle" fill="#000" stroke="#000" stroke-width="0.3">50</text>
<line x1="610.12" x2="610.12" y1="380.5" y2="391.0" stroke="#333" stroke-width="3"/>
<text transform="translate(609.5,421.7) scale(1,1.06)" font-size="32" text-anchor="middle" fill="#000" stroke="#000" stroke-width="0.3">75</text>
<line x1="769.50" x2="769.50" y1="380.5" y2="391.0" stroke="#333" stroke-width="3"/>
<text transform="translate(768.9,421.7) scale(1,1.06)" font-size="32" text-anchor="middle" fill="#000" stroke="#000" stroke-width="0.3">100</text>
<line x1="90.5" x2="101.0" y1="362.50" y2="362.50" stroke="#333" stroke-width="3"/>
<text transform="translate(81.5,373.6) scale(1,1.06)" font-size="32" text-anchor="end" fill="#000" stroke="#000" stroke-width="0.3">5</text>
<line x1="90.5" x2="101.0" y1="288.75" y2="288.75" stroke="#333" stroke-width="3"/>
<text transform="translate(81.5,299.9) scale(1,1.06)" font-size="32" text-anchor="end" fill="#000" stroke="#000" stroke-width="0.3">10</text>
<line x1="90.5" x2="101.0" y1="215.50" y2="215.50" stroke="#333" stroke-width="3"/>
<text transform="translate(81.5,226.6) scale(1,1.06)" font-size="32" text-anchor="end" fill="#000" stroke="#000" stroke-width="0.3">15</text>
<line x1="90.5" x2="101.0" y1="141.75" y2="141.75" stroke="#333" stroke-width="3"/>
<text transform="translate(81.5,152.8) scale(1,1.06)" font-size="32" text-anchor="end" fill="#000" stroke="#000" stroke-width="0.3">20</text>
</g>
<g id="panelB">
<rect x="822.6" y="111.0" width="699.15" height="269.5" fill="#fff"/>
<line x1="822.6" x2="1521.75" y1="325.62" y2="325.62" stroke="#ebebeb" stroke-width="1.6"/>
<line x1="822.6" x2="1521.75" y1="251.88" y2="251.88" stroke="#ebebeb" stroke-width="1.6"/>
<line x1="822.6" x2="1521.75" y1="178.12" y2="178.12" stroke="#ebebeb" stroke-width="1.6"/>
<line x1="932.91" x2="932.91" y1="111.0" y2="380.5" stroke="#ebebeb" stroke-width="1.6"/>
<line x1="1092.22" x2="1092.22" y1="111.0" y2="380.5" stroke="#ebebeb" stroke-width="1.6"/>
<line x1="1251.53" x2="1251.53" y1="111.0" y2="380.5" stroke="#ebebeb" stroke-width="1.6"/>
<line x1="1410.84" x2="1410.84" y1="111.0" y2="380.5" stroke="#ebebeb" stroke-width="1.6"/>
<line x1="822.6" x2="1521.75" y1="362.50" y2="362.50" stroke="#ebebeb" stroke-width="3"/>
<line x1="822.6" x2="1521.75" y1="288.75" y2="288.75" stroke="#ebebeb" stroke-width="3"/>
<line x1="822.6" x2="1521.75" y1="215.50" y2="215.50" stroke="#ebebeb" stroke-width="3"/>
<line x1="822.6" x2="1521.75" y1="141.75" y2="141.75" stroke="#ebebeb" stroke-width="3"/>
<line x1="853.25" x2="853.25" y1="111.0" y2="380.5" stroke="#ebebeb" stroke-width="3"/>
<line x1="1012.56" x2="1012.56" y1="111.0" y2="380.5" stroke="#ebebeb" stroke-width="3"/>
<line x1="1171.88" x2="1171.88" y1="111.0" y2="380.5" stroke="#ebebeb" stroke-width="3"/>
<line x1="1331.19" x2="1331.19" y1="111.0" y2="380.5" stroke="#ebebeb" stroke-width="3"/>
<line x1="1490.50" x2="1490.50" y1="111.0" y2="380.5" stroke="#ebebeb" stroke-width="3"/>
<g id="ptsB">
<circle cx="914.5" cy="123.9" r="7.0" fill="#4DA62C" fill-opacity="0.43" stroke="#4DA62C" stroke-opacity="0.55" stroke-width="2.6"/>
<circle cx="952.1" cy="124.7" r="7.0" fill="#4DA62C" fill-opacity="0.43" stroke="#4DA62C" stroke-opacity="0.55" stroke-width="2.6"/>
<circle cx="945.4" cy="145.7" r="7.0" fill="#4DA62C" fill-opacity="0.43" stroke="#4DA62C" stroke-opacity="0.55" stroke-width="2.6"/>
<circle cx="946.0" cy="149.6" r="7.0" fill="#4DA62C" fill-opacity="0.43" stroke="#4DA62C" stroke-opacity="0.55" stroke-width="2.6"/>
<circle cx="950.4" cy="160.2" r="7.0" fill="#4DA62C" fill-opacity="0.43" stroke="#4DA62C" stroke-opacity="0.55" stroke-width="2.6"/>
<circle cx="974.4" cy="159.6" r="7.0" fill="#4DA62C" fill-opacity="0.43" stroke="#4DA62C" stroke-opacity="0.55" stroke-width="2.6"/>
<circle cx="958.2" cy="173.6" r="7.0" fill="#4DA62C" fill-opacity="0.43" stroke="#4DA62C" stroke-opacity="0.55" stroke-width="2.6"/>
<circle cx="973.9" cy="173.0" r="7.0" fill="#4DA62C" fill-opacity="0.43" stroke="#4DA62C" stroke-opacity="0.55" stroke-width="2.6"/>
<circle cx="987.2" cy="178.0" r="7.0" fill="#4DA62C" fill-opacity="0.43" stroke="#4DA62C" stroke-opacity="0.55" stroke-width="2.6"/>
<circle cx="989.5" cy="187.0" r="7.0" fill="#4DA62C" fill-opacity="0.43" stroke="#4DA62C" stroke-opacity="0.55" stroke-width="2.6"/>
<circle cx="985.6" cy="203.1" r="7.0" fill="#4DA62C" fill-opacity="0.43" stroke="#4DA62C" stroke-opacity="0.55" stroke-width="2.6"/>
<circle cx="925.9" cy="156.3" r="7.0" fill="#4DA62C" fill-opacity="0.43" stroke="#4DA62C" stroke-opacity="0.55" stroke-width="2.6"/>
<circle cx="929.2" cy="165.8" r="7.0" fill="#4DA62C" fill-opacity="0.43" stroke="#4DA62C" stroke-opacity="0.55" stroke-width="2.6"/>
<circle cx="933.7" cy="168.0" r="7.0" fill="#4DA62C" fill-opacity="0.43" stroke="#4DA62C" stroke-opacity="0.55" stroke-width="2.6"/>
<circle cx="937.0" cy="169.1" r="7.0" fill="#4DA62C" fill-opacity="0.43" stroke="#4DA62C" stroke-opacity="0.55" stroke-width="2.6"/>
<circle cx="911.4" cy="147.9" r="7.0" fill="#4DA62C" fill-opacity="0.43" stroke="#4DA62C" stroke-opacity="0.55" stroke-width="2.6"/>
<circle cx="914.7" cy="153.5" r="7.0" fill="#4DA62C" fill-opacity="0.43" stroke="#4DA62C" stroke-opacity="0.55" stroke-width="2.6"/>
<circle cx="909.2" cy="156.8" r="7.0" fill="#4DA62C" fill-opacity="0.43" stroke="#4DA62C" stroke-opacity="0.55" stroke-width="2.6"/>
<circle cx="889.1" cy="155.2" r="7.0" fill="#4DA62C" fill-opacity="0.43" stroke="#4DA62C" stroke-opacity="0.55" stroke-width="2.6"/>
<circle cx="890.2" cy="166.9" r="7.0" fill="#4DA62C" fill-opacity="0.43" stroke="#4DA62C" stroke-opacity="0.55" stroke-width="2.6"/>
<circle cx="902.5" cy="140.1" r="7.0" fill="#4DA62C" fill-opacity="0.43" stroke="#4DA62C" stroke-opacity="0.55" stroke-width="2.6"/>
<circle cx="909.2" cy="165.8" r="7.0" fill="#4DA62C" fill-opacity="0.43" stroke="#4DA62C" stroke-opacity="0.55" stroke-width="2.6"/>
<circle cx="906.9" cy="172.5" r="7.0" fill="#4DA62C" fill-opacity="0.43" stroke="#4DA62C" stroke-opacity="0.55" stroke-width="2.6"/>
<circle cx="920.3" cy="181.4" r="7.0" fill="#4DA62C" fill-opacity="0.43" stroke="#4DA62C" stroke-opacity="0.55" stroke-width="2.6"/>
<circle cx="923.1" cy="182.5" r="7.0" fill="#4DA62C" fill-opacity="0.43" stroke="#4DA62C" stroke-opacity="0.55" stroke-width="2.6"/>
<circle cx="884.6" cy="179.2" r="7.0" fill="#4DA62C" fill-opacity="0.43" stroke="#4DA62C" stroke-opacity="0.55" stroke-width="2.6"/>
<circle cx="886.8" cy="185.9" r="7.0" fill="#4DA62C" fill-opacity="0.43" stroke="#4DA62C" stroke-opacity="0.55" stroke-width="2.6"/>
<circle cx="882.4" cy="182.5" r="7.0" fill="#4DA62C" fill-opacity="0.43" stroke="#4DA62C" stroke-opacity="0.55" stroke-width="2.6"/>
<circle cx="911.4" cy="193.7" r="7.0" fill="#4DA62C" fill-opacity="0.43" stroke="#4DA62C" stroke-opacity="0.55" stroke-width="2.6"/>
<circle cx="927.0" cy="202.0" r="7.0" fill="#4DA62C" fill-opacity="0.43" stroke="#4DA62C" stroke-opacity="0.55" stroke-width="2.6"/>
<circle cx="928.1" cy="204.8" r="7.0" fill="#4DA62C" fill-opacity="0.43" stroke="#4DA62C" stroke-opacity="0.55" stroke-width="2.6"/>
<circle cx="947.1" cy="194.8" r="7.0" fill="#4DA62C" fill-opacity="0.43" stroke="#4DA62C" stroke-opacity="0.55" stroke-width="2.6"/>
<circle cx="943.7" cy="198.1" r="7.0" fill="#4DA62C" fill-opacity="0.43" stroke="#4DA62C" stroke-opacity="0.55" stroke-width="2.6"/>
<circle cx="941.5" cy="202.6" r="7.0" fill="#4DA62C" fill-opacity="0.43" stroke="#4DA62C" stroke-opacity="0.55" stroke-width="2.6"/>
<circle cx="900.2" cy="208.2" r="7.0" fill="#4DA62C" fill-opacity="0.43" stroke="#4DA62C" stroke-opacity="0.55" stroke-width="2.6"/>
<circle cx="884.6" cy="194.8" r="7.0" fill="#4DA62C" fill-opacity="0.43" stroke="#4DA62C" stroke-opacity="0.55" stroke-width="2.6"/>
<circle cx="882.4" cy="202.6" r="7.0" fill="#4DA62C" fill-opacity="0.43" stroke="#4DA62C" stroke-opacity="0.55" stroke-width="2.6"/>
<circle cx="893.5" cy="176.9" r="7.0" fill="#4DA62C" fill-opacity="0.43" stroke="#4DA62C" stroke-opacity="0.55" stroke-width="2.6"/>
<circle cx="902.5" cy="181.4" r="7.0" fill="#4DA62C" fill-opacity="0.43" stroke="#4DA62C" stroke-opacity="0.55" stroke-width="2.6"/>
<circle cx="899.1" cy="147.9" r="7.0" fill="#4DA62C" fill-opacity="0.43" stroke="#4DA62C" stroke-opacity="0.55" stroke-width="2.6"/>
<circle cx="983.9" cy="235.1" r="7.0" fill="#4DA62C" fill-opacity="0.43" stroke="#4DA62C" stroke-opacity="0.55" stroke-width="2.6"/>
<circle cx="983.9" cy="235.3" r="7.0" fill="#4DA62C" fill-opacity="0.43" stroke="#4DA62C" stroke-opacity="0.55" stroke-width="2.6"/>
<circle cx="980.5" cy="215.6" r="7.0" fill="#4DA62C" fill-opacity="0.43" stroke="#4DA62C" stroke-opacity="0.55" stroke-width="2.6"/>
<circle cx="994.5" cy="215.6" r="7.0" fill="#4DA62C" fill-opacity="0.43" stroke="#4DA62C" stroke-opacity="0.55" stroke-width="2.6"/>
<circle cx="987.8" cy="284.4" r="7.0" fill="#4DA62C" fill-opacity="0.43" stroke="#4DA62C" stroke-opacity="0.55" stroke-width="2.6"/>
<circle cx="1001.2" cy="303.7" r="7.0" fill="#4DA62C" fill-opacity="0.43" stroke="#4DA62C" stroke-opacity="0.55" stroke-width="2.6"/>
<circle cx="912.5" cy="232.7" r="7.0" fill="#4DA62C" fill-opacity="0.43" stroke="#4DA62C" stroke-opacity="0.55" stroke-width="2.6"/>
<circle cx="931.5" cy="222.8" r="7.0" fill="#4DA62C" fill-opacity="0.43" stroke="#4DA62C" stroke-opacity="0.55" stroke-width="2.6"/>
<circle cx="942.6" cy="217.3" r="7.0" fill="#4DA62C" fill-opacity="0.43" stroke="#4DA62C" stroke-opacity="0.55" stroke-width="2.6"/>
<circle cx="949.3" cy="210.6" r="7.0" fill="#4DA62C" fill-opacity="0.43" stroke="#4DA62C" stroke-opacity="0.55" stroke-width="2.6"/>
<circle cx="913.6" cy="217.3" r="7.0" fill="#4DA62C" fill-opacity="0.43" stroke="#4DA62C" stroke-opacity="0.55" stroke-width="2.6"/>
<circle cx="902.5" cy="222.8" r="7.0" fill="#4DA62C" fill-opacity="0.43" stroke="#4DA62C" stroke-opacity="0.55" stroke-width="2.6"/>
<circle cx="894.7" cy="237.3" r="7.0" fill="#4DA62C" fill-opacity="0.43" stroke="#4DA62C" stroke-opacity="0.55" stroke-width="2.6"/>
<circle cx="881.3" cy="275.3" r="7.0" fill="#4DA62C" fill-opacity="0.43" stroke="#4DA62C" stroke-opacity="0.55" stroke-width="2.6"/>
<circle cx="883.5" cy="261.9" r="7.0" fill="#4DA62C" fill-opacity="0.43" stroke="#4DA62C" stroke-opacity="0.55" stroke-width="2.6"/>
<circle cx="881.3" cy="257.4" r="7.0" fill="#4DA62C" fill-opacity="0.43" stroke="#4DA62C" stroke-opacity="0.55" stroke-width="2.6"/>
<circle cx="869.0" cy="255.2" r="7.0" fill="#4DA62C" fill-opacity="0.43" stroke="#4DA62C" stroke-opacity="0.55" stroke-width="2.6"/>
<circle cx="882.4" cy="249.6" r="7.0" fill="#4DA62C" fill-opacity="0.43" stroke="#4DA62C" stroke-opacity="0.55" stroke-width="2.6"/>
<circle cx="882.4" cy="241.8" r="7.0" fill="#4DA62C" fill-opacity="0.43" stroke="#4DA62C" stroke-opacity="0.55" stroke-width="2.6"/>
<circle cx="884.6" cy="235.1" r="7.0" fill="#4DA62C" fill-opacity="0.43" stroke="#4DA62C" stroke-opacity="0.55" stroke-width="2.6"/>
<circle cx="876.8" cy="219.5" r="7.0" fill="#4DA62C" fill-opacity="0.43" stroke="#4DA62C" stroke-opacity="0.55" stroke-width="2.6"/>
<circle cx="882.4" cy="221.7" r="7.0" fill="#4DA62C" fill-opacity="0.43" stroke="#4DA62C" stroke-opacity="0.55" stroke-width="2.6"/>
<circle cx="886.8" cy="225.1" r="7.0" fill="#4DA62C" fill-opacity="0.43" stroke="#4DA62C" stroke-opacity="0.55" stroke-width="2.6"/>
<circle cx="890.2" cy="218.4" r="7.0" fill="#4DA62C" fill-opacity="0.43" stroke="#4DA62C" stroke-opacity="0.55" stroke-width="2.6"/>
<circle cx="895.8" cy="222.8" r="7.0" fill="#4DA62C" fill-opacity="0.43" stroke="#4DA62C" stroke-opacity="0.55" stroke-width="2.6"/>
<circle cx="873.5" cy="218.4" r="7.0" fill="#4DA62C" fill-opacity="0.43" stroke="#4DA62C" stroke-opacity="0.55" stroke-width="2.6"/>
<circle cx="879.0" cy="227.3" r="7.0" fill="#4DA62C" fill-opacity="0.43" stroke="#4DA62C" stroke-opacity="0.55" stroke-width="2.6"/>
<circle cx="891.3" cy="230.7" r="7.0" fill="#4DA62C" fill-opacity="0.43" stroke="#4DA62C" stroke-opacity="0.55" stroke-width="2.6"/>
<circle cx="906.9" cy="211.7" r="7.0" fill="#4DA62C" fill-opacity="0.43" stroke="#4DA62C" stroke-opacity="0.55" stroke-width="2.6"/>
<circle cx="924.8" cy="210.6" r="7.0" fill="#4DA62C" fill-opacity="0.43" stroke="#4DA62C" stroke-opacity="0.55" stroke-width="2.6"/>
<circle cx="935.9" cy="210.6" r="7.0" fill="#4DA62C" fill-opacity="0.43" stroke="#4DA62C" stroke-opacity="0.55" stroke-width="2.6"/>
<circle cx="898.0" cy="211.7" r="7.0" fill="#4DA62C" fill-opacity="0.43" stroke="#4DA62C" stroke-opacity="0.55" stroke-width="2.6"/>
<circle cx="1010.4" cy="149.6" r="7.0" fill="#4DA62C" fill-opacity="0.43" stroke="#4DA62C" stroke-opacity="0.55" stroke-width="2.6"/>
<circle cx="1014.7" cy="179.8" r="7.0" fill="#4DA62C" fill-opacity="0.43" stroke="#4DA62C" stroke-opacity="0.55" stroke-width="2.6"/>
<circle cx="1042.6" cy="189.0" r="7.0" fill="#4DA62C" fill-opacity="0.43" stroke="#4DA62C" stroke-opacity="0.55" stroke-width="2.6"/>
<circle cx="1036.2" cy="192.3" r="7.0" fill="#4DA62C" fill-opacity="0.43" stroke="#4DA62C" stroke-opacity="0.55" stroke-width="2.6"/>
<circle cx="1038.4" cy="206.0" r="7.0" fill="#4DA62C" fill-opacity="0.43" stroke="#4DA62C" stroke-opacity="0.55" stroke-width="2.6"/>
<circle cx="1024.7" cy="210.7" r="7.0" fill="#4DA62C" fill-opacity="0.43" stroke="#4DA62C" stroke-opacity="0.55" stroke-width="2.6"/>
<circle cx="1028.1" cy="220.7" r="7.0" fill="#4DA62C" fill-opacity="0.43" stroke="#4DA62C" stroke-opacity="0.55" stroke-width="2.6"/>
<circle cx="1048.4" cy="219.9" r="7.0" fill="#4DA62C" fill-opacity="0.43" stroke="#4DA62C" stroke-opacity="0.55" stroke-width="2.6"/>
<circle cx="1056.1" cy="228.9" r="7.0" fill="#4DA62C" fill-opacity="0.43" stroke="#4DA62C" stroke-opacity="0.55" stroke-width="2.6"/>
<circle cx="1072.1" cy="206.5" r="7.0" fill="#4DA62C" fill-opacity="0.43" stroke="#4DA62C" stroke-opacity="0.55" stroke-width="2.6"/>
<circle cx="1061.1" cy="250.3" r="7.0" fill="#4DA62C" fill-opacity="0.43" stroke="#4DA62C" stroke-opacity="0.55" stroke-width="2.6"/>
<circle cx="1122.4" cy="182.1" r="7.0" fill="#4DA62C" fill-opacity="0.43" stroke="#4DA62C" stroke-opacity="0.55" stroke-width="2.6"/>
<circle cx="1113.6" cy="211.0" r="7.0" fill="#4DA62C" fill-opacity="0.43" stroke="#4DA62C" stroke-opacity="0.55" stroke-width="2.6"/>
<circle cx="1126.4" cy="216.5" r="7.0" fill="#4DA62C" fill-opacity="0.43" stroke="#4DA62C" stroke-opacity="0.55" stroke-width="2.6"/>
<circle cx="1108.2" cy="233.6" r="7.0" fill="#4DA62C" fill-opacity="0.43" stroke="#4DA62C" stroke-opacity="0.55" stroke-width="2.6"/>
<circle cx="1108.2" cy="238.6" r="7.0" fill="#4DA62C" fill-opacity="0.43" stroke="#4DA62C" stroke-opacity="0.55" stroke-width="2.6"/>
<circle cx="1130.6" cy="232.7" r="7.0" fill="#4DA62C" fill-opacity="0.43" stroke="#4DA62C" stroke-opacity="0.55" stroke-width="2.6"/>
<circle cx="1148.0" cy="228.2" r="7.0" fill="#4DA62C" fill-opacity="0.43" stroke="#4DA62C" stroke-opacity="0.55" stroke-width="2.6"/>
<circle cx="1148.0" cy="239.1" r="7.0" fill="#4DA62C" fill-opacity="0.43" stroke="#4DA62C" stroke-opacity="0.55" stroke-width="2.6"/>
<circle cx="1110.2" cy="253.6" r="7.0" fill="#4DA62C" fill-opacity="0.43" stroke="#4DA62C" stroke-opacity="0.55" stroke-width="2.6"/>
<circle cx="1229.6" cy="221.6" r="7.0" fill="#4DA62C" fill-opacity="0.43" stroke="#4DA62C" stroke-opacity="0.55" stroke-width="2.6"/>
<circle cx="1136.6" cy="270.4" r="7.0" fill="#4DA62C" fill-opacity="0.43" stroke="#4DA62C" stroke-opacity="0.55" stroke-width="2.6"/>
<circle cx="1162.0" cy="274.6" r="7.0" fill="#4DA62C" fill-opacity="0.43" stroke="#4DA62C" stroke-opacity="0.55" stroke-width="2.6"/>
<circle cx="1172.0" cy="276.8" r="7.0" fill="#4DA62C" fill-opacity="0.43" stroke="#4DA62C" stroke-opacity="0.55" stroke-width="2.6"/>
<circle cx="1154.0" cy="280.6" r="7.0" fill="#4DA62C" fill-opacity="0.43" stroke="#4DA62C" stroke-opacity="0.55" stroke-width="2.6"/>
<circle cx="1186.7" cy="280.6" r="7.0" fill="#4DA62C" fill-opacity="0.43" stroke="#4DA62C" stroke-opacity="0.55" stroke-width="2.6"/>
<circle cx="1183.7" cy="289.8" r="7.0" fill="#4DA62C" fill-opacity="0.43" stroke="#4DA62C" stroke-opacity="0.55" stroke-width="2.6"/>
<circle cx="1221.8" cy="299.3" r="7.0" fill="#4DA62C" fill-opacity="0.43" stroke="#4DA62C" stroke-opacity="0.55" stroke-width="2.6"/>
<circle cx="1083.0" cy="279.3" r="7.0" fill="#4DA62C" fill-opacity="0.43" stroke="#4DA62C" stroke-opacity="0.55" stroke-width="2.6"/>
<circle cx="1076.0" cy="280.9" r="7.0" fill="#4DA62C" fill-opacity="0.43" stroke="#4DA62C" stroke-opacity="0.55" stroke-width="2.6"/>
<circle cx="1108.0" cy="289.3" r="7.0" fill="#4DA62C" fill-opacity="0.43" stroke="#4DA62C" stroke-opacity="0.55" stroke-width="2.6"/>
<circle cx="1093.5" cy="295.5" r="7.0" fill="#4DA62C" fill-opacity="0.43" stroke="#4DA62C" stroke-opacity="0.55" stroke-width="2.6"/>
<circle cx="1095.2" cy="298.5" r="7.0" fill="#4DA62C" fill-opacity="0.43" stroke="#4DA62C" stroke-opacity="0.55" stroke-width="2.6"/>
<circle cx="1122.7" cy="303.2" r="7.0" fill="#4DA62C" fill-opacity="0.43" stroke="#4DA62C" stroke-opacity="0.55" stroke-width="2.6"/>
<circle cx="1139.4" cy="302.7" r="7.0" fill="#4DA62C" fill-opacity="0.43" stroke="#4DA62C" stroke-opacity="0.55" stroke-width="2.6"/>
<circle cx="1139.4" cy="307.7" r="7.0" fill="#4DA62C" fill-opacity="0.43" stroke="#4DA62C" stroke-opacity="0.55" stroke-width="2.6"/>
<circle cx="1140.3" cy="313.5" r="7.0" fill="#4DA62C" fill-opacity="0.43" stroke="#4DA62C" stroke-opacity="0.55" stroke-width="2.6"/>
<circle cx="1159.5" cy="312.3" r="7.0" fill="#4DA62C" fill-opacity="0.43" stroke="#4DA62C" stroke-opacity="0.55" stroke-width="2.6"/>
<circle cx="1087.7" cy="307.7" r="7.0" fill="#4DA62C" fill-opacity="0.43" stroke="#4DA62C" stroke-opacity="0.55" stroke-width="2.6"/>
<circle cx="1081.0" cy="316.9" r="7.0" fill="#4DA62C" fill-opacity="0.43" stroke="#4DA62C" stroke-opacity="0.55" stroke-width="2.6"/>
<circle cx="1113.6" cy="321.0" r="7.0" fill="#4DA62C" fill-opacity="0.43" stroke="#4DA62C" stroke-opacity="0.55" stroke-width="2.6"/>
<circle cx="1091.9" cy="326.0" r="7.0" fill="#4DA62C" fill-opacity="0.43" stroke="#4DA62C" stroke-opacity="0.55" stroke-width="2.6"/>
<circle cx="1092.7" cy="331.0" r="7.0" fill="#4DA62C" fill-opacity="0.43" stroke="#4DA62C" stroke-opacity="0.55" stroke-width="2.6"/>
<circle cx="1096.0" cy="338.6" r="7.0" fill="#4DA62C" fill-opacity="0.43" stroke="#4DA62C" stroke-opacity="0.55" stroke-width="2.6"/>
<circle cx="1104.4" cy="338.6" r="7.0" fill="#4DA62C" fill-opacity="0.43" stroke="#4DA62C" stroke-opacity="0.55" stroke-width="2.6"/>
<circle cx="1118.6" cy="331.9" r="7.0" fill="#4DA62C" fill-opacity="0.43" stroke="#4DA62C" stroke-opacity="0.55" stroke-width="2.6"/>
<circle cx="1131.9" cy="337.7" r="7.0" fill="#4DA62C" fill-opacity="0.43" stroke="#4DA62C" stroke-opacity="0.55" stroke-width="2.6"/>
<circle cx="1145.3" cy="326.0" r="7.0" fill="#4DA62C" fill-opacity="0.43" stroke="#4DA62C" stroke-opacity="0.55" stroke-width="2.6"/>
<circle cx="1150.3" cy="327.7" r="7.0" fill="#4DA62C" fill-opacity="0.43" stroke="#4DA62C" stroke-opacity="0.55" stroke-width="2.6"/>
<circle cx="1145.3" cy="332.7" r="7.0" fill="#4DA62C" fill-opacity="0.43" stroke="#4DA62C" stroke-opacity="0.55" stroke-width="2.6"/>
<circle cx="1075.5" cy="341.4" r="7.0" fill="#4DA62C" fill-opacity="0.43" stroke="#4DA62C" stroke-opacity="0.55" stroke-width="2.6"/>
<circle cx="1055.6" cy="328.9" r="7.0" fill="#4DA62C" fill-opacity="0.43" stroke="#4DA62C" stroke-opacity="0.55" stroke-width="2.6"/>
<circle cx="1190.0" cy="341.1" r="7.0" fill="#4DA62C" fill-opacity="0.43" stroke="#4DA62C" stroke-opacity="0.55" stroke-width="2.6"/>
<circle cx="1025.4" cy="285.1" r="7.0" fill="#4DA62C" fill-opacity="0.43" stroke="#4DA62C" stroke-opacity="0.55" stroke-width="2.6"/>
<circle cx="1025.9" cy="293.5" r="7.0" fill="#4DA62C" fill-opacity="0.43" stroke="#4DA62C" stroke-opacity="0.55" stroke-width="2.6"/>
<circle cx="1042.6" cy="283.5" r="7.0" fill="#4DA62C" fill-opacity="0.43" stroke="#4DA62C" stroke-opacity="0.55" stroke-width="2.6"/>
<circle cx="1040.1" cy="286.0" r="7.0" fill="#4DA62C" fill-opacity="0.43" stroke="#4DA62C" stroke-opacity="0.55" stroke-width="2.6"/>
<circle cx="1050.1" cy="290.1" r="7.0" fill="#4DA62C" fill-opacity="0.43" stroke="#4DA62C" stroke-opacity="0.55" stroke-width="2.6"/>
<circle cx="1056.8" cy="291.0" r="7.0" fill="#4DA62C" fill-opacity="0.43" stroke="#4DA62C" stroke-opacity="0.55" stroke-width="2.6"/>
<circle cx="1063.5" cy="290.1" r="7.0" fill="#4DA62C" fill-opacity="0.43" stroke="#4DA62C" stroke-opacity="0.55" stroke-width="2.6"/>
<circle cx="1070.1" cy="293.5" r="7.0" fill="#4DA62C" fill-opacity="0.43" stroke="#4DA62C" stroke-opacity="0.55" stroke-width="2.6"/>
<circle cx="1048.4" cy="295.1" r="7.0" fill="#4DA62C" fill-opacity="0.43" stroke="#4DA62C" stroke-opacity="0.55" stroke-width="2.6"/>
<circle cx="1053.4" cy="298.5" r="7.0" fill="#4DA62C" fill-opacity="0.43" stroke="#4DA62C" stroke-opacity="0.55" stroke-width="2.6"/>
<circle cx="1068.5" cy="306.0" r="7.0" fill="#4DA62C" fill-opacity="0.43" stroke="#4DA62C" stroke-opacity="0.55" stroke-width="2.6"/>
<circle cx="1060.1" cy="316.0" r="7.0" fill="#4DA62C" fill-opacity="0.43" stroke="#4DA62C" stroke-opacity="0.55" stroke-width="2.6"/>
<circle cx="1056.8" cy="313.5" r="7.0" fill="#4DA62C" fill-opacity="0.43" stroke="#4DA62C" stroke-opacity="0.55" stroke-width="2.6"/>
<circle cx="1025.1" cy="316.0" r="7.0" fill="#4DA62C" fill-opacity="0.43" stroke="#4DA62C" stroke-opacity="0.55" stroke-width="2.6"/>
<circle cx="1016.7" cy="311.8" r="7.0" fill="#4DA62C" fill-opacity="0.43" stroke="#4DA62C" stroke-opacity="0.55" stroke-width="2.6"/>
<circle cx="1040.1" cy="325.2" r="7.0" fill="#4DA62C" fill-opacity="0.43" stroke="#4DA62C" stroke-opacity="0.55" stroke-width="2.6"/>
<circle cx="1297.6" cy="202.2" r="7.0" fill="#4DA62C" fill-opacity="0.43" stroke="#4DA62C" stroke-opacity="0.55" stroke-width="2.6"/>
<circle cx="1261.0" cy="216.0" r="7.0" fill="#4DA62C" fill-opacity="0.43" stroke="#4DA62C" stroke-opacity="0.55" stroke-width="2.6"/>
<circle cx="1265.3" cy="228.0" r="7.0" fill="#4DA62C" fill-opacity="0.43" stroke="#4DA62C" stroke-opacity="0.55" stroke-width="2.6"/>
<circle cx="1290.0" cy="251.4" r="7.0" fill="#4DA62C" fill-opacity="0.43" stroke="#4DA62C" stroke-opacity="0.55" stroke-width="2.6"/>
<circle cx="1312.6" cy="254.8" r="7.0" fill="#4DA62C" fill-opacity="0.43" stroke="#4DA62C" stroke-opacity="0.55" stroke-width="2.6"/>
<circle cx="1278.9" cy="273.5" r="7.0" fill="#4DA62C" fill-opacity="0.43" stroke="#4DA62C" stroke-opacity="0.55" stroke-width="2.6"/>
<circle cx="1276.9" cy="285.6" r="7.0" fill="#4DA62C" fill-opacity="0.43" stroke="#4DA62C" stroke-opacity="0.55" stroke-width="2.6"/>
<circle cx="1375.6" cy="266.4" r="7.0" fill="#4DA62C" fill-opacity="0.43" stroke="#4DA62C" stroke-opacity="0.55" stroke-width="2.6"/>
<circle cx="1407.4" cy="241.1" r="7.0" fill="#4DA62C" fill-opacity="0.43" stroke="#4DA62C" stroke-opacity="0.55" stroke-width="2.6"/>
<circle cx="914.3" cy="144.7" r="7.0" fill="#4DA62C" fill-opacity="0.43" stroke="#4DA62C" stroke-opacity="0.55" stroke-width="2.6"/>
<circle cx="909.8" cy="154.7" r="7.0" fill="#4DA62C" fill-opacity="0.43" stroke="#4DA62C" stroke-opacity="0.55" stroke-width="2.6"/>
<circle cx="911.7" cy="158.6" r="7.0" fill="#4DA62C" fill-opacity="0.43" stroke="#4DA62C" stroke-opacity="0.55" stroke-width="2.6"/>
<circle cx="906.9" cy="163.7" r="7.0" fill="#4DA62C" fill-opacity="0.43" stroke="#4DA62C" stroke-opacity="0.55" stroke-width="2.6"/>
<circle cx="910.3" cy="169.3" r="7.0" fill="#4DA62C" fill-opacity="0.43" stroke="#4DA62C" stroke-opacity="0.55" stroke-width="2.6"/>
<circle cx="907.1" cy="170.9" r="7.0" fill="#4DA62C" fill-opacity="0.43" stroke="#4DA62C" stroke-opacity="0.55" stroke-width="2.6"/>
<circle cx="892.0" cy="176.8" r="7.0" fill="#4DA62C" fill-opacity="0.43" stroke="#4DA62C" stroke-opacity="0.55" stroke-width="2.6"/>
<circle cx="883.9" cy="180.1" r="7.0" fill="#4DA62C" fill-opacity="0.43" stroke="#4DA62C" stroke-opacity="0.55" stroke-width="2.6"/>
<circle cx="890.8" cy="186.3" r="7.0" fill="#4DA62C" fill-opacity="0.43" stroke="#4DA62C" stroke-opacity="0.55" stroke-width="2.6"/>
<circle cx="889.3" cy="187.1" r="7.0" fill="#4DA62C" fill-opacity="0.43" stroke="#4DA62C" stroke-opacity="0.55" stroke-width="2.6"/>
<circle cx="889.3" cy="191.6" r="7.0" fill="#4DA62C" fill-opacity="0.43" stroke="#4DA62C" stroke-opacity="0.55" stroke-width="2.6"/>
<circle cx="888.7" cy="197.4" r="7.0" fill="#4DA62C" fill-opacity="0.43" stroke="#4DA62C" stroke-opacity="0.55" stroke-width="2.6"/>
<circle cx="890.8" cy="203.4" r="7.0" fill="#4DA62C" fill-opacity="0.43" stroke="#4DA62C" stroke-opacity="0.55" stroke-width="2.6"/>
<circle cx="887.0" cy="204.6" r="7.0" fill="#4DA62C" fill-opacity="0.43" stroke="#4DA62C" stroke-opacity="0.55" stroke-width="2.6"/>
<circle cx="886.7" cy="209.4" r="7.0" fill="#4DA62C" fill-opacity="0.43" stroke="#4DA62C" stroke-opacity="0.55" stroke-width="2.6"/>
<circle cx="880.9" cy="211.4" r="7.0" fill="#4DA62C" fill-opacity="0.43" stroke="#4DA62C" stroke-opacity="0.55" stroke-width="2.6"/>
<circle cx="898.0" cy="188.1" r="7.0" fill="#4DA62C" fill-opacity="0.43" stroke="#4DA62C" stroke-opacity="0.55" stroke-width="2.6"/>
<circle cx="893.5" cy="199.2" r="7.0" fill="#4DA62C" fill-opacity="0.43" stroke="#4DA62C" stroke-opacity="0.55" stroke-width="2.6"/>
<circle cx="902.5" cy="194.8" r="7.0" fill="#4DA62C" fill-opacity="0.43" stroke="#4DA62C" stroke-opacity="0.55" stroke-width="2.6"/>
<circle cx="880.2" cy="215.1" r="7.0" fill="#4DA62C" fill-opacity="0.43" stroke="#4DA62C" stroke-opacity="0.55" stroke-width="2.6"/>
<circle cx="880.5" cy="224.0" r="7.0" fill="#4DA62C" fill-opacity="0.43" stroke="#4DA62C" stroke-opacity="0.55" stroke-width="2.6"/>
<circle cx="882.4" cy="226.0" r="7.0" fill="#4DA62C" fill-opacity="0.43" stroke="#4DA62C" stroke-opacity="0.55" stroke-width="2.6"/>
<circle cx="883.8" cy="233.4" r="7.0" fill="#4DA62C" fill-opacity="0.43" stroke="#4DA62C" stroke-opacity="0.55" stroke-width="2.6"/>
<circle cx="879.5" cy="237.2" r="7.0" fill="#4DA62C" fill-opacity="0.43" stroke="#4DA62C" stroke-opacity="0.55" stroke-width="2.6"/>
<circle cx="878.5" cy="241.5" r="7.0" fill="#4DA62C" fill-opacity="0.43" stroke="#4DA62C" stroke-opacity="0.55" stroke-width="2.6"/>
<circle cx="886.9" cy="246.1" r="7.0" fill="#4DA62C" fill-opacity="0.43" stroke="#4DA62C" stroke-opacity="0.55" stroke-width="2.6"/>
<circle cx="879.3" cy="251.6" r="7.0" fill="#4DA62C" fill-opacity="0.43" stroke="#4DA62C" stroke-opacity="0.55" stroke-width="2.6"/>
<circle cx="881.5" cy="255.6" r="7.0" fill="#4DA62C" fill-opacity="0.43" stroke="#4DA62C" stroke-opacity="0.55" stroke-width="2.6"/>
<circle cx="887.3" cy="260.0" r="7.0" fill="#4DA62C" fill-opacity="0.43" stroke="#4DA62C" stroke-opacity="0.55" stroke-width="2.6"/>
<circle cx="1036.7" cy="303.5" r="7.0" fill="#4DA62C" fill-opacity="0.43" stroke="#4DA62C" stroke-opacity="0.55" stroke-width="2.6"/>
<circle cx="1043.4" cy="308.5" r="7.0" fill="#4DA62C" fill-opacity="0.43" stroke="#4DA62C" stroke-opacity="0.55" stroke-width="2.6"/>
<circle cx="1056.8" cy="305.2" r="7.0" fill="#4DA62C" fill-opacity="0.43" stroke="#4DA62C" stroke-opacity="0.55" stroke-width="2.6"/>
<circle cx="1050.1" cy="300.2" r="7.0" fill="#4DA62C" fill-opacity="0.43" stroke="#4DA62C" stroke-opacity="0.55" stroke-width="2.6"/>
<circle cx="1046.8" cy="291.8" r="7.0" fill="#4DA62C" fill-opacity="0.43" stroke="#4DA62C" stroke-opacity="0.55" stroke-width="2.6"/>
<circle cx="1053.4" cy="293.5" r="7.0" fill="#4DA62C" fill-opacity="0.43" stroke="#4DA62C" stroke-opacity="0.55" stroke-width="2.6"/>
<circle cx="1058.5" cy="295.1" r="7.0" fill="#4DA62C" fill-opacity="0.43" stroke="#4DA62C" stroke-opacity="0.55" stroke-width="2.6"/>
<circle cx="1050.1" cy="288.5" r="7.0" fill="#4DA62C" fill-opacity="0.43" stroke="#4DA62C" stroke-opacity="0.55" stroke-width="2.6"/>
<circle cx="1045.1" cy="296.8" r="7.0" fill="#4DA62C" fill-opacity="0.43" stroke="#4DA62C" stroke-opacity="0.55" stroke-width="2.6"/>
<rect x="1114.9" y="330.7" width="14.0" height="14.0" fill="#000000" fill-opacity="0.42"/>
<rect x="1132.8" y="348.8" width="14.0" height="14.0" fill="#000000" fill-opacity="0.42"/>
<rect x="1176.2" y="342.9" width="14.0" height="14.0" fill="#000000" fill-opacity="0.42"/>
<rect x="1183.7" y="337.9" width="14.0" height="14.0" fill="#000000" fill-opacity="0.42"/>
<rect x="1202.3" y="356.6" width="14.0" height="14.0" fill="#000000" fill-opacity="0.42"/>
<rect x="1229.6" y="335.2" width="14.0" height="14.0" fill="#000000" fill-opacity="0.42"/>
<rect x="1236.8" y="350.4" width="14.0" height="14.0" fill="#000000" fill-opacity="0.42"/>
<rect x="1261.4" y="346.4" width="14.0" height="14.0" fill="#000000" fill-opacity="0.42"/>
<rect x="1334.0" y="337.1" width="14.0" height="14.0" fill="#000000" fill-opacity="0.42"/>
<rect x="1452.7" y="362.0" width="14.0" height="14.0" fill="#000000" fill-opacity="0.42"/>
<rect x="1001.4" y="309.9" width="14.0" height="14.0" fill="#E0541A" fill-opacity="0.48"/>
<rect x="1001.7" y="310.4" width="14.0" height="14.0" fill="#E0541A" fill-opacity="0.48"/>
<rect x="1001.0" y="309.5" width="14.0" height="14.0" fill="#E0541A" fill-opacity="0.48"/>
<rect x="1003.9" y="314.0" width="14.0" height="14.0" fill="#E0541A" fill-opacity="0.48"/>
<rect x="1007.2" y="318.2" width="14.0" height="14.0" fill="#E0541A" fill-opacity="0.48"/>
<rect x="1009.7" y="323.2" width="14.0" height="14.0" fill="#E0541A" fill-opacity="0.48"/>
<rect x="1017.2" y="308.2" width="14.0" height="14.0" fill="#E0541A" fill-opacity="0.48"/>
<rect x="1029.7" y="296.5" width="14.0" height="14.0" fill="#E0541A" fill-opacity="0.48"/>
<rect x="1036.4" y="304.8" width="14.0" height="14.0" fill="#E0541A" fill-opacity="0.48"/>
<rect x="1031.4" y="315.7" width="14.0" height="14.0" fill="#E0541A" fill-opacity="0.48"/>
<rect x="1049.8" y="296.5" width="14.0" height="14.0" fill="#E0541A" fill-opacity="0.48"/>
<rect x="1051.5" y="299.8" width="14.0" height="14.0" fill="#E0541A" fill-opacity="0.48"/>
<rect x="1032.2" y="311.5" width="14.0" height="14.0" fill="#E0541A" fill-opacity="0.48"/>
<rect x="933.1" y="262.1" width="14.0" height="14.0" fill="#D01C8B" fill-opacity="0.48"/>
<rect x="939.0" y="263.3" width="14.0" height="14.0" fill="#D01C8B" fill-opacity="0.48"/>
<rect x="942.9" y="266.6" width="14.0" height="14.0" fill="#D01C8B" fill-opacity="0.48"/>
<rect x="940.1" y="264.4" width="14.0" height="14.0" fill="#D01C8B" fill-opacity="0.48"/>
<rect x="941.8" y="265.5" width="14.0" height="14.0" fill="#D01C8B" fill-opacity="0.48"/>
<rect x="956.0" y="272.2" width="14.0" height="14.0" fill="#D01C8B" fill-opacity="0.48"/>
<rect x="918.9" y="279.8" width="14.0" height="14.0" fill="#D01C8B" fill-opacity="0.48"/>
<rect x="918.9" y="287.2" width="14.0" height="14.0" fill="#D01C8B" fill-opacity="0.48"/>
<rect x="936.7" y="276.1" width="14.0" height="14.0" fill="#D01C8B" fill-opacity="0.48"/>
<rect x="939.0" y="288.4" width="14.0" height="14.0" fill="#D01C8B" fill-opacity="0.48"/>
<rect x="942.9" y="288.4" width="14.0" height="14.0" fill="#D01C8B" fill-opacity="0.48"/>
<circle cx="1040.1" cy="325.2" r="7.0" fill="#4DA62C" fill-opacity="0.43" stroke="#4DA62C" stroke-opacity="0.55" stroke-width="2.6"/>
<circle cx="1025.1" cy="316.0" r="7.0" fill="#4DA62C" fill-opacity="0.43" stroke="#4DA62C" stroke-opacity="0.55" stroke-width="2.6"/>
<circle cx="869.6" cy="185.3" r="7.0" fill="#3A96D8" fill-opacity="0.45" stroke="#3A96D8" stroke-opacity="0.57" stroke-width="2.6"/>
<circle cx="871.2" cy="191.4" r="7.0" fill="#3A96D8" fill-opacity="0.45" stroke="#3A96D8" stroke-opacity="0.57" stroke-width="2.6"/>
<circle cx="869.0" cy="199.2" r="7.0" fill="#3A96D8" fill-opacity="0.45" stroke="#3A96D8" stroke-opacity="0.57" stroke-width="2.6"/>
<circle cx="868.4" cy="204.3" r="7.0" fill="#3A96D8" fill-opacity="0.45" stroke="#3A96D8" stroke-opacity="0.57" stroke-width="2.6"/>
<circle cx="873.5" cy="202.6" r="7.0" fill="#3A96D8" fill-opacity="0.45" stroke="#3A96D8" stroke-opacity="0.57" stroke-width="2.6"/>
<circle cx="869.6" cy="235.1" r="7.0" fill="#3A96D8" fill-opacity="0.45" stroke="#3A96D8" stroke-opacity="0.57" stroke-width="2.6"/>
<circle cx="870.1" cy="238.5" r="7.0" fill="#3A96D8" fill-opacity="0.45" stroke="#3A96D8" stroke-opacity="0.57" stroke-width="2.6"/>
<circle cx="866.8" cy="247.4" r="7.0" fill="#3A96D8" fill-opacity="0.45" stroke="#3A96D8" stroke-opacity="0.57" stroke-width="2.6"/>
<circle cx="867.9" cy="249.6" r="7.0" fill="#3A96D8" fill-opacity="0.45" stroke="#3A96D8" stroke-opacity="0.57" stroke-width="2.6"/>
<circle cx="864.5" cy="246.3" r="7.0" fill="#3A96D8" fill-opacity="0.45" stroke="#3A96D8" stroke-opacity="0.57" stroke-width="2.6"/>
<circle cx="867.9" cy="210.6" r="7.0" fill="#3A96D8" fill-opacity="0.45" stroke="#3A96D8" stroke-opacity="0.57" stroke-width="2.6"/>
<circle cx="871.2" cy="211.1" r="7.0" fill="#3A96D8" fill-opacity="0.45" stroke="#3A96D8" stroke-opacity="0.57" stroke-width="2.6"/>
<circle cx="875.1" cy="274.7" r="7.0" fill="#3A96D8" fill-opacity="0.45" stroke="#3A96D8" stroke-opacity="0.57" stroke-width="2.6"/>
<circle cx="869.6" cy="235.7" r="7.0" fill="#3A96D8" fill-opacity="0.45" stroke="#3A96D8" stroke-opacity="0.57" stroke-width="2.6"/>
<circle cx="868.4" cy="237.3" r="7.0" fill="#3A96D8" fill-opacity="0.45" stroke="#3A96D8" stroke-opacity="0.57" stroke-width="2.6"/>
<circle cx="866.2" cy="247.9" r="7.0" fill="#3A96D8" fill-opacity="0.45" stroke="#3A96D8" stroke-opacity="0.57" stroke-width="2.6"/>
<circle cx="867.9" cy="249.1" r="7.0" fill="#3A96D8" fill-opacity="0.45" stroke="#3A96D8" stroke-opacity="0.57" stroke-width="2.6"/>
<circle cx="869.2" cy="203.5" r="7.0" fill="#3A96D8" fill-opacity="0.45" stroke="#3A96D8" stroke-opacity="0.57" stroke-width="2.6"/>
<circle cx="869.9" cy="203.1" r="7.0" fill="#3A96D8" fill-opacity="0.45" stroke="#3A96D8" stroke-opacity="0.57" stroke-width="2.6"/>
<circle cx="899.1" cy="133.4" r="7.0" fill="none" stroke="#3A96D8" stroke-opacity="0.6" stroke-width="2.6"/>
<circle cx="900.8" cy="137.3" r="7.0" fill="none" stroke="#3A96D8" stroke-opacity="0.6" stroke-width="2.6"/>
<circle cx="893.5" cy="137.9" r="7.0" fill="none" stroke="#3A96D8" stroke-opacity="0.6" stroke-width="2.6"/>
<circle cx="896.9" cy="140.1" r="7.0" fill="none" stroke="#3A96D8" stroke-opacity="0.6" stroke-width="2.6"/>
<circle cx="901.3" cy="146.8" r="7.0" fill="none" stroke="#3A96D8" stroke-opacity="0.6" stroke-width="2.6"/>
<circle cx="893.0" cy="156.8" r="7.0" fill="none" stroke="#3A96D8" stroke-opacity="0.6" stroke-width="2.6"/>
<circle cx="893.5" cy="165.8" r="7.0" fill="none" stroke="#3A96D8" stroke-opacity="0.6" stroke-width="2.6"/>
<circle cx="903.6" cy="169.1" r="7.0" fill="none" stroke="#3A96D8" stroke-opacity="0.6" stroke-width="2.6"/>
<circle cx="897.4" cy="190.3" r="7.0" fill="none" stroke="#3A96D8" stroke-opacity="0.6" stroke-width="2.6"/>
<circle cx="894.7" cy="201.5" r="7.0" fill="none" stroke="#3A96D8" stroke-opacity="0.6" stroke-width="2.6"/>
<circle cx="922.3" cy="247.9" r="7.0" fill="none" stroke="#3A96D8" stroke-opacity="0.6" stroke-width="2.6"/>
</g>
<rect x="822.6" y="111.0" width="699.15" height="269.5" fill="none" stroke="#333" stroke-width="1.8"/>
<line x1="821.8000000000001" x2="1522.55" y1="111.6" y2="111.6" stroke="#3a3a3a" stroke-width="3.6"/>
<rect x="822.6" y="50.5" width="699.15" height="60.5" fill="#d9d9d9" stroke="#333" stroke-width="1.8"/>
<text transform="translate(1172.2,91.5) scale(1,1.035)" font-size="32.3" text-anchor="middle" fill="#1a1a1a" stroke="#1a1a1a" stroke-width="0.25">UnconstrainedCosts</text>
<line x1="853.25" x2="853.25" y1="380.5" y2="391.0" stroke="#333" stroke-width="3"/>
<text transform="translate(852.6,421.7) scale(1,1.06)" font-size="32" text-anchor="middle" fill="#000" stroke="#000" stroke-width="0.3">0</text>
<line x1="1012.56" x2="1012.56" y1="380.5" y2="391.0" stroke="#333" stroke-width="3"/>
<text transform="translate(1012.0,421.7) scale(1,1.06)" font-size="32" text-anchor="middle" fill="#000" stroke="#000" stroke-width="0.3">25</text>
<line x1="1171.88" x2="1171.88" y1="380.5" y2="391.0" stroke="#333" stroke-width="3"/>
<text transform="translate(1171.3,421.7) scale(1,1.06)" font-size="32" text-anchor="middle" fill="#000" stroke="#000" stroke-width="0.3">50</text>
<line x1="1331.19" x2="1331.19" y1="380.5" y2="391.0" stroke="#333" stroke-width="3"/>
<text transform="translate(1330.6,421.7) scale(1,1.06)" font-size="32" text-anchor="middle" fill="#000" stroke="#000" stroke-width="0.3">75</text>
<line x1="1490.50" x2="1490.50" y1="380.5" y2="391.0" stroke="#333" stroke-width="3"/>
<text transform="translate(1489.9,421.7) scale(1,1.06)" font-size="32" text-anchor="middle" fill="#000" stroke="#000" stroke-width="0.3">100</text>
</g>
<g id="panelC">
<rect x="126.25" y="579.5" width="687.0" height="268.0" fill="#fff"/>
<line x1="126.25" x2="813.25" y1="814.00" y2="814.00" stroke="#ebebeb" stroke-width="1.6"/>
<line x1="126.25" x2="813.25" y1="752.00" y2="752.00" stroke="#ebebeb" stroke-width="1.6"/>
<line x1="126.25" x2="813.25" y1="690.00" y2="690.00" stroke="#ebebeb" stroke-width="1.6"/>
<line x1="126.25" x2="813.25" y1="628.00" y2="628.00" stroke="#ebebeb" stroke-width="1.6"/>
<line x1="235.00" x2="235.00" y1="579.5" y2="847.5" stroke="#ebebeb" stroke-width="1.6"/>
<line x1="391.50" x2="391.50" y1="579.5" y2="847.5" stroke="#ebebeb" stroke-width="1.6"/>
<line x1="548.00" x2="548.00" y1="579.5" y2="847.5" stroke="#ebebeb" stroke-width="1.6"/>
<line x1="704.50" x2="704.50" y1="579.5" y2="847.5" stroke="#ebebeb" stroke-width="1.6"/>
<line x1="126.25" x2="813.25" y1="845.00" y2="845.00" stroke="#ebebeb" stroke-width="3"/>
<line x1="126.25" x2="813.25" y1="783.00" y2="783.00" stroke="#ebebeb" stroke-width="3"/>
<line x1="126.25" x2="813.25" y1="720.50" y2="720.50" stroke="#ebebeb" stroke-width="3"/>
<line x1="126.25" x2="813.25" y1="658.50" y2="658.50" stroke="#ebebeb" stroke-width="3"/>
<line x1="126.25" x2="813.25" y1="596.25" y2="596.25" stroke="#ebebeb" stroke-width="3"/>
<line x1="156.75" x2="156.75" y1="579.5" y2="847.5" stroke="#ebebeb" stroke-width="3"/>
<line x1="313.25" x2="313.25" y1="579.5" y2="847.5" stroke="#ebebeb" stroke-width="3"/>
<line x1="469.75" x2="469.75" y1="579.5" y2="847.5" stroke="#ebebeb" stroke-width="3"/>
<line x1="626.25" x2="626.25" y1="579.5" y2="847.5" stroke="#ebebeb" stroke-width="3"/>
<line x1="782.75" x2="782.75" y1="579.5" y2="847.5" stroke="#ebebeb" stroke-width="3"/>
<g id="ptsC">
<circle cx="589.9" cy="672.2" r="7.0" fill="#4DA62C" fill-opacity="0.43" stroke="#4DA62C" stroke-opacity="0.55" stroke-width="2.6"/>
<circle cx="184.1" cy="822.9" r="7.0" fill="#4DA62C" fill-opacity="0.43" stroke="#4DA62C" stroke-opacity="0.55" stroke-width="2.6"/>
<circle cx="184.3" cy="822.0" r="7.0" fill="#4DA62C" fill-opacity="0.43" stroke="#4DA62C" stroke-opacity="0.55" stroke-width="2.6"/>
<circle cx="185.5" cy="821.2" r="7.0" fill="#4DA62C" fill-opacity="0.43" stroke="#4DA62C" stroke-opacity="0.55" stroke-width="2.6"/>
<circle cx="184.3" cy="816.1" r="7.0" fill="#4DA62C" fill-opacity="0.43" stroke="#4DA62C" stroke-opacity="0.55" stroke-width="2.6"/>
<circle cx="190.6" cy="821.9" r="7.0" fill="#4DA62C" fill-opacity="0.43" stroke="#4DA62C" stroke-opacity="0.55" stroke-width="2.6"/>
<circle cx="194.0" cy="822.1" r="7.0" fill="#4DA62C" fill-opacity="0.43" stroke="#4DA62C" stroke-opacity="0.55" stroke-width="2.6"/>
<circle cx="191.7" cy="818.4" r="7.0" fill="#4DA62C" fill-opacity="0.43" stroke="#4DA62C" stroke-opacity="0.55" stroke-width="2.6"/>
<circle cx="191.4" cy="817.4" r="7.0" fill="#4DA62C" fill-opacity="0.43" stroke="#4DA62C" stroke-opacity="0.55" stroke-width="2.6"/>
<circle cx="191.2" cy="813.5" r="7.0" fill="#4DA62C" fill-opacity="0.43" stroke="#4DA62C" stroke-opacity="0.55" stroke-width="2.6"/>
<circle cx="196.8" cy="812.5" r="7.0" fill="#4DA62C" fill-opacity="0.43" stroke="#4DA62C" stroke-opacity="0.55" stroke-width="2.6"/>
<circle cx="198.8" cy="814.0" r="7.0" fill="#4DA62C" fill-opacity="0.43" stroke="#4DA62C" stroke-opacity="0.55" stroke-width="2.6"/>
<circle cx="198.7" cy="811.5" r="7.0" fill="#4DA62C" fill-opacity="0.43" stroke="#4DA62C" stroke-opacity="0.55" stroke-width="2.6"/>
<circle cx="205.9" cy="814.1" r="7.0" fill="#4DA62C" fill-opacity="0.43" stroke="#4DA62C" stroke-opacity="0.55" stroke-width="2.6"/>
<circle cx="200.7" cy="808.0" r="7.0" fill="#4DA62C" fill-opacity="0.43" stroke="#4DA62C" stroke-opacity="0.55" stroke-width="2.6"/>
<circle cx="201.6" cy="804.0" r="7.0" fill="#4DA62C" fill-opacity="0.43" stroke="#4DA62C" stroke-opacity="0.55" stroke-width="2.6"/>
<circle cx="207.3" cy="811.1" r="7.0" fill="#4DA62C" fill-opacity="0.43" stroke="#4DA62C" stroke-opacity="0.55" stroke-width="2.6"/>
<circle cx="208.6" cy="810.2" r="7.0" fill="#4DA62C" fill-opacity="0.43" stroke="#4DA62C" stroke-opacity="0.55" stroke-width="2.6"/>
<circle cx="210.7" cy="809.7" r="7.0" fill="#4DA62C" fill-opacity="0.43" stroke="#4DA62C" stroke-opacity="0.55" stroke-width="2.6"/>
<circle cx="208.9" cy="803.6" r="7.0" fill="#4DA62C" fill-opacity="0.43" stroke="#4DA62C" stroke-opacity="0.55" stroke-width="2.6"/>
<circle cx="213.0" cy="806.3" r="7.0" fill="#4DA62C" fill-opacity="0.43" stroke="#4DA62C" stroke-opacity="0.55" stroke-width="2.6"/>
<circle cx="212.7" cy="800.1" r="7.0" fill="#4DA62C" fill-opacity="0.43" stroke="#4DA62C" stroke-opacity="0.55" stroke-width="2.6"/>
<circle cx="211.8" cy="797.7" r="7.0" fill="#4DA62C" fill-opacity="0.43" stroke="#4DA62C" stroke-opacity="0.55" stroke-width="2.6"/>
<circle cx="213.5" cy="795.7" r="7.0" fill="#4DA62C" fill-opacity="0.43" stroke="#4DA62C" stroke-opacity="0.55" stroke-width="2.6"/>
<circle cx="217.5" cy="800.1" r="7.0" fill="#4DA62C" fill-opacity="0.43" stroke="#4DA62C" stroke-opacity="0.55" stroke-width="2.6"/>
<circle cx="220.8" cy="798.6" r="7.0" fill="#4DA62C" fill-opacity="0.43" stroke="#4DA62C" stroke-opacity="0.55" stroke-width="2.6"/>
<circle cx="217.7" cy="789.4" r="7.0" fill="#4DA62C" fill-opacity="0.43" stroke="#4DA62C" stroke-opacity="0.55" stroke-width="2.6"/>
<circle cx="224.7" cy="799.8" r="7.0" fill="#4DA62C" fill-opacity="0.43" stroke="#4DA62C" stroke-opacity="0.55" stroke-width="2.6"/>
<circle cx="225.7" cy="795.5" r="7.0" fill="#4DA62C" fill-opacity="0.43" stroke="#4DA62C" stroke-opacity="0.55" stroke-width="2.6"/>
<circle cx="224.0" cy="794.2" r="7.0" fill="#4DA62C" fill-opacity="0.43" stroke="#4DA62C" stroke-opacity="0.55" stroke-width="2.6"/>
<circle cx="228.1" cy="786.8" r="7.0" fill="#4DA62C" fill-opacity="0.43" stroke="#4DA62C" stroke-opacity="0.55" stroke-width="2.6"/>
<circle cx="229.2" cy="796.4" r="7.0" fill="#4DA62C" fill-opacity="0.43" stroke="#4DA62C" stroke-opacity="0.55" stroke-width="2.6"/>
<circle cx="230.9" cy="798.3" r="7.0" fill="#4DA62C" fill-opacity="0.43" stroke="#4DA62C" stroke-opacity="0.55" stroke-width="2.6"/>
<circle cx="234.5" cy="798.3" r="7.0" fill="#4DA62C" fill-opacity="0.43" stroke="#4DA62C" stroke-opacity="0.55" stroke-width="2.6"/>
<circle cx="238.5" cy="798.2" r="7.0" fill="#4DA62C" fill-opacity="0.43" stroke="#4DA62C" stroke-opacity="0.55" stroke-width="2.6"/>
<circle cx="234.2" cy="790.7" r="7.0" fill="#4DA62C" fill-opacity="0.43" stroke="#4DA62C" stroke-opacity="0.55" stroke-width="2.6"/>
<circle cx="237.3" cy="792.8" r="7.0" fill="#4DA62C" fill-opacity="0.43" stroke="#4DA62C" stroke-opacity="0.55" stroke-width="2.6"/>
<circle cx="237.1" cy="783.8" r="7.0" fill="#4DA62C" fill-opacity="0.43" stroke="#4DA62C" stroke-opacity="0.55" stroke-width="2.6"/>
<circle cx="241.7" cy="787.9" r="7.0" fill="#4DA62C" fill-opacity="0.43" stroke="#4DA62C" stroke-opacity="0.55" stroke-width="2.6"/>
<circle cx="243.3" cy="788.6" r="7.0" fill="#4DA62C" fill-opacity="0.43" stroke="#4DA62C" stroke-opacity="0.55" stroke-width="2.6"/>
<circle cx="247.7" cy="791.1" r="7.0" fill="#4DA62C" fill-opacity="0.43" stroke="#4DA62C" stroke-opacity="0.55" stroke-width="2.6"/>
<circle cx="248.2" cy="790.0" r="7.0" fill="#4DA62C" fill-opacity="0.43" stroke="#4DA62C" stroke-opacity="0.55" stroke-width="2.6"/>
<circle cx="250.3" cy="789.7" r="7.0" fill="#4DA62C" fill-opacity="0.43" stroke="#4DA62C" stroke-opacity="0.55" stroke-width="2.6"/>
<circle cx="248.2" cy="783.2" r="7.0" fill="#4DA62C" fill-opacity="0.43" stroke="#4DA62C" stroke-opacity="0.55" stroke-width="2.6"/>
<circle cx="253.9" cy="790.5" r="7.0" fill="#4DA62C" fill-opacity="0.43" stroke="#4DA62C" stroke-opacity="0.55" stroke-width="2.6"/>
<circle cx="254.5" cy="790.4" r="7.0" fill="#4DA62C" fill-opacity="0.43" stroke="#4DA62C" stroke-opacity="0.55" stroke-width="2.6"/>
<circle cx="254.3" cy="781.0" r="7.0" fill="#4DA62C" fill-opacity="0.43" stroke="#4DA62C" stroke-opacity="0.55" stroke-width="2.6"/>
<circle cx="257.0" cy="788.9" r="7.0" fill="#4DA62C" fill-opacity="0.43" stroke="#4DA62C" stroke-opacity="0.55" stroke-width="2.6"/>
<circle cx="258.8" cy="778.9" r="7.0" fill="#4DA62C" fill-opacity="0.43" stroke="#4DA62C" stroke-opacity="0.55" stroke-width="2.6"/>
<circle cx="272.2" cy="793.7" r="7.0" fill="#4DA62C" fill-opacity="0.43" stroke="#4DA62C" stroke-opacity="0.55" stroke-width="2.6"/>
<circle cx="271.1" cy="783.8" r="7.0" fill="#4DA62C" fill-opacity="0.43" stroke="#4DA62C" stroke-opacity="0.55" stroke-width="2.6"/>
<circle cx="274.7" cy="784.2" r="7.0" fill="#4DA62C" fill-opacity="0.43" stroke="#4DA62C" stroke-opacity="0.55" stroke-width="2.6"/>
<circle cx="273.8" cy="790.4" r="7.0" fill="#4DA62C" fill-opacity="0.43" stroke="#4DA62C" stroke-opacity="0.55" stroke-width="2.6"/>
<circle cx="279.3" cy="787.9" r="7.0" fill="#4DA62C" fill-opacity="0.43" stroke="#4DA62C" stroke-opacity="0.55" stroke-width="2.6"/>
<circle cx="277.2" cy="779.7" r="7.0" fill="#4DA62C" fill-opacity="0.43" stroke="#4DA62C" stroke-opacity="0.55" stroke-width="2.6"/>
<circle cx="283.2" cy="796.3" r="7.0" fill="#4DA62C" fill-opacity="0.43" stroke="#4DA62C" stroke-opacity="0.55" stroke-width="2.6"/>
<circle cx="285.5" cy="795.2" r="7.0" fill="#4DA62C" fill-opacity="0.43" stroke="#4DA62C" stroke-opacity="0.55" stroke-width="2.6"/>
<circle cx="284.4" cy="794.6" r="7.0" fill="#4DA62C" fill-opacity="0.43" stroke="#4DA62C" stroke-opacity="0.55" stroke-width="2.6"/>
<circle cx="288.2" cy="788.0" r="7.0" fill="#4DA62C" fill-opacity="0.43" stroke="#4DA62C" stroke-opacity="0.55" stroke-width="2.6"/>
<circle cx="286.9" cy="787.0" r="7.0" fill="#4DA62C" fill-opacity="0.43" stroke="#4DA62C" stroke-opacity="0.55" stroke-width="2.6"/>
<circle cx="286.7" cy="784.7" r="7.0" fill="#4DA62C" fill-opacity="0.43" stroke="#4DA62C" stroke-opacity="0.55" stroke-width="2.6"/>
<circle cx="295.2" cy="793.5" r="7.0" fill="#4DA62C" fill-opacity="0.43" stroke="#4DA62C" stroke-opacity="0.55" stroke-width="2.6"/>
<circle cx="294.7" cy="788.7" r="7.0" fill="#4DA62C" fill-opacity="0.43" stroke="#4DA62C" stroke-opacity="0.55" stroke-width="2.6"/>
<circle cx="293.9" cy="791.2" r="7.0" fill="#4DA62C" fill-opacity="0.43" stroke="#4DA62C" stroke-opacity="0.55" stroke-width="2.6"/>
<circle cx="295.1" cy="781.5" r="7.0" fill="#4DA62C" fill-opacity="0.43" stroke="#4DA62C" stroke-opacity="0.55" stroke-width="2.6"/>
<circle cx="297.9" cy="786.4" r="7.0" fill="#4DA62C" fill-opacity="0.43" stroke="#4DA62C" stroke-opacity="0.55" stroke-width="2.6"/>
<circle cx="298.5" cy="779.7" r="7.0" fill="#4DA62C" fill-opacity="0.43" stroke="#4DA62C" stroke-opacity="0.55" stroke-width="2.6"/>
<circle cx="298.3" cy="781.9" r="7.0" fill="#4DA62C" fill-opacity="0.43" stroke="#4DA62C" stroke-opacity="0.55" stroke-width="2.6"/>
<circle cx="302.6" cy="778.1" r="7.0" fill="#4DA62C" fill-opacity="0.43" stroke="#4DA62C" stroke-opacity="0.55" stroke-width="2.6"/>
<circle cx="306.3" cy="784.1" r="7.0" fill="#4DA62C" fill-opacity="0.43" stroke="#4DA62C" stroke-opacity="0.55" stroke-width="2.6"/>
<circle cx="303.8" cy="777.4" r="7.0" fill="#4DA62C" fill-opacity="0.43" stroke="#4DA62C" stroke-opacity="0.55" stroke-width="2.6"/>
<circle cx="309.9" cy="792.8" r="7.0" fill="#4DA62C" fill-opacity="0.43" stroke="#4DA62C" stroke-opacity="0.55" stroke-width="2.6"/>
<circle cx="311.0" cy="784.1" r="7.0" fill="#4DA62C" fill-opacity="0.43" stroke="#4DA62C" stroke-opacity="0.55" stroke-width="2.6"/>
<circle cx="310.7" cy="792.0" r="7.0" fill="#4DA62C" fill-opacity="0.43" stroke="#4DA62C" stroke-opacity="0.55" stroke-width="2.6"/>
<circle cx="314.5" cy="782.9" r="7.0" fill="#4DA62C" fill-opacity="0.43" stroke="#4DA62C" stroke-opacity="0.55" stroke-width="2.6"/>
<circle cx="315.5" cy="794.8" r="7.0" fill="#4DA62C" fill-opacity="0.43" stroke="#4DA62C" stroke-opacity="0.55" stroke-width="2.6"/>
<circle cx="316.6" cy="779.4" r="7.0" fill="#4DA62C" fill-opacity="0.43" stroke="#4DA62C" stroke-opacity="0.55" stroke-width="2.6"/>
<circle cx="210.1" cy="826.9" r="7.0" fill="#4DA62C" fill-opacity="0.43" stroke="#4DA62C" stroke-opacity="0.55" stroke-width="2.6"/>
<circle cx="200.1" cy="828.6" r="7.0" fill="#4DA62C" fill-opacity="0.43" stroke="#4DA62C" stroke-opacity="0.55" stroke-width="2.6"/>
<circle cx="302.0" cy="739.8" r="7.0" fill="#4DA62C" fill-opacity="0.43" stroke="#4DA62C" stroke-opacity="0.55" stroke-width="2.6"/>
<circle cx="320.0" cy="739.6" r="7.0" fill="#4DA62C" fill-opacity="0.43" stroke="#4DA62C" stroke-opacity="0.55" stroke-width="2.6"/>
<circle cx="338.4" cy="746.3" r="7.0" fill="#4DA62C" fill-opacity="0.43" stroke="#4DA62C" stroke-opacity="0.55" stroke-width="2.6"/>
<circle cx="347.9" cy="748.5" r="7.0" fill="#4DA62C" fill-opacity="0.43" stroke="#4DA62C" stroke-opacity="0.55" stroke-width="2.6"/>
<circle cx="328.4" cy="752.6" r="7.0" fill="#4DA62C" fill-opacity="0.43" stroke="#4DA62C" stroke-opacity="0.55" stroke-width="2.6"/>
<circle cx="340.1" cy="759.0" r="7.0" fill="#4DA62C" fill-opacity="0.43" stroke="#4DA62C" stroke-opacity="0.55" stroke-width="2.6"/>
<circle cx="330.9" cy="758.6" r="7.0" fill="#4DA62C" fill-opacity="0.43" stroke="#4DA62C" stroke-opacity="0.55" stroke-width="2.6"/>
<circle cx="326.7" cy="765.2" r="7.0" fill="#4DA62C" fill-opacity="0.43" stroke="#4DA62C" stroke-opacity="0.55" stroke-width="2.6"/>
<circle cx="337.6" cy="770.2" r="7.0" fill="#4DA62C" fill-opacity="0.43" stroke="#4DA62C" stroke-opacity="0.55" stroke-width="2.6"/>
<circle cx="302.5" cy="756.8" r="7.0" fill="#4DA62C" fill-opacity="0.43" stroke="#4DA62C" stroke-opacity="0.55" stroke-width="2.6"/>
<circle cx="301.7" cy="766.8" r="7.0" fill="#4DA62C" fill-opacity="0.43" stroke="#4DA62C" stroke-opacity="0.55" stroke-width="2.6"/>
<circle cx="310.0" cy="769.3" r="7.0" fill="#4DA62C" fill-opacity="0.43" stroke="#4DA62C" stroke-opacity="0.55" stroke-width="2.6"/>
<circle cx="278.6" cy="756.0" r="7.0" fill="#4DA62C" fill-opacity="0.43" stroke="#4DA62C" stroke-opacity="0.55" stroke-width="2.6"/>
<circle cx="279.4" cy="760.1" r="7.0" fill="#4DA62C" fill-opacity="0.43" stroke="#4DA62C" stroke-opacity="0.55" stroke-width="2.6"/>
<circle cx="297.0" cy="756.8" r="7.0" fill="#4DA62C" fill-opacity="0.43" stroke="#4DA62C" stroke-opacity="0.55" stroke-width="2.6"/>
<circle cx="300.3" cy="756.8" r="7.0" fill="#4DA62C" fill-opacity="0.43" stroke="#4DA62C" stroke-opacity="0.55" stroke-width="2.6"/>
<circle cx="309.5" cy="768.5" r="7.0" fill="#4DA62C" fill-opacity="0.43" stroke="#4DA62C" stroke-opacity="0.55" stroke-width="2.6"/>
<circle cx="327.0" cy="765.2" r="7.0" fill="#4DA62C" fill-opacity="0.43" stroke="#4DA62C" stroke-opacity="0.55" stroke-width="2.6"/>
<circle cx="290.3" cy="766.0" r="7.0" fill="#4DA62C" fill-opacity="0.43" stroke="#4DA62C" stroke-opacity="0.55" stroke-width="2.6"/>
<circle cx="295.3" cy="763.5" r="7.0" fill="#4DA62C" fill-opacity="0.43" stroke="#4DA62C" stroke-opacity="0.55" stroke-width="2.6"/>
<circle cx="305.3" cy="766.8" r="7.0" fill="#4DA62C" fill-opacity="0.43" stroke="#4DA62C" stroke-opacity="0.55" stroke-width="2.6"/>
<circle cx="240.2" cy="776.8" r="7.0" fill="#4DA62C" fill-opacity="0.43" stroke="#4DA62C" stroke-opacity="0.55" stroke-width="2.6"/>
<circle cx="243.5" cy="777.7" r="7.0" fill="#4DA62C" fill-opacity="0.43" stroke="#4DA62C" stroke-opacity="0.55" stroke-width="2.6"/>
<circle cx="256.9" cy="776.8" r="7.0" fill="#4DA62C" fill-opacity="0.43" stroke="#4DA62C" stroke-opacity="0.55" stroke-width="2.6"/>
<circle cx="261.9" cy="778.5" r="7.0" fill="#4DA62C" fill-opacity="0.43" stroke="#4DA62C" stroke-opacity="0.55" stroke-width="2.6"/>
<circle cx="273.6" cy="776.8" r="7.0" fill="#4DA62C" fill-opacity="0.43" stroke="#4DA62C" stroke-opacity="0.55" stroke-width="2.6"/>
<circle cx="218.5" cy="791.9" r="7.0" fill="#4DA62C" fill-opacity="0.43" stroke="#4DA62C" stroke-opacity="0.55" stroke-width="2.6"/>
<circle cx="226.8" cy="788.5" r="7.0" fill="#4DA62C" fill-opacity="0.43" stroke="#4DA62C" stroke-opacity="0.55" stroke-width="2.6"/>
<circle cx="206.8" cy="798.6" r="7.0" fill="#4DA62C" fill-opacity="0.43" stroke="#4DA62C" stroke-opacity="0.55" stroke-width="2.6"/>
<circle cx="196.8" cy="803.6" r="7.0" fill="#4DA62C" fill-opacity="0.43" stroke="#4DA62C" stroke-opacity="0.55" stroke-width="2.6"/>
<circle cx="190.1" cy="810.2" r="7.0" fill="#4DA62C" fill-opacity="0.43" stroke="#4DA62C" stroke-opacity="0.55" stroke-width="2.6"/>
<circle cx="280.3" cy="803.6" r="7.0" fill="#4DA62C" fill-opacity="0.43" stroke="#4DA62C" stroke-opacity="0.55" stroke-width="2.6"/>
<circle cx="288.6" cy="801.9" r="7.0" fill="#4DA62C" fill-opacity="0.43" stroke="#4DA62C" stroke-opacity="0.55" stroke-width="2.6"/>
<circle cx="275.3" cy="796.9" r="7.0" fill="#4DA62C" fill-opacity="0.43" stroke="#4DA62C" stroke-opacity="0.55" stroke-width="2.6"/>
<circle cx="485.9" cy="708.8" r="7.0" fill="#4DA62C" fill-opacity="0.43" stroke="#4DA62C" stroke-opacity="0.55" stroke-width="2.6"/>
<circle cx="521.6" cy="710.1" r="7.0" fill="#4DA62C" fill-opacity="0.43" stroke="#4DA62C" stroke-opacity="0.55" stroke-width="2.6"/>
<circle cx="400.2" cy="713.8" r="7.0" fill="#4DA62C" fill-opacity="0.43" stroke="#4DA62C" stroke-opacity="0.55" stroke-width="2.6"/>
<circle cx="417.7" cy="720.1" r="7.0" fill="#4DA62C" fill-opacity="0.43" stroke="#4DA62C" stroke-opacity="0.55" stroke-width="2.6"/>
<circle cx="392.7" cy="723.5" r="7.0" fill="#4DA62C" fill-opacity="0.43" stroke="#4DA62C" stroke-opacity="0.55" stroke-width="2.6"/>
<circle cx="408.6" cy="726.0" r="7.0" fill="#4DA62C" fill-opacity="0.43" stroke="#4DA62C" stroke-opacity="0.55" stroke-width="2.6"/>
<circle cx="411.1" cy="725.2" r="7.0" fill="#4DA62C" fill-opacity="0.43" stroke="#4DA62C" stroke-opacity="0.55" stroke-width="2.6"/>
<circle cx="410.2" cy="736.8" r="7.0" fill="#4DA62C" fill-opacity="0.43" stroke="#4DA62C" stroke-opacity="0.55" stroke-width="2.6"/>
<circle cx="396.9" cy="738.5" r="7.0" fill="#4DA62C" fill-opacity="0.43" stroke="#4DA62C" stroke-opacity="0.55" stroke-width="2.6"/>
<circle cx="391.9" cy="741.9" r="7.0" fill="#4DA62C" fill-opacity="0.43" stroke="#4DA62C" stroke-opacity="0.55" stroke-width="2.6"/>
<circle cx="398.5" cy="744.4" r="7.0" fill="#4DA62C" fill-opacity="0.43" stroke="#4DA62C" stroke-opacity="0.55" stroke-width="2.6"/>
<circle cx="394.4" cy="753.5" r="7.0" fill="#4DA62C" fill-opacity="0.43" stroke="#4DA62C" stroke-opacity="0.55" stroke-width="2.6"/>
<circle cx="432.8" cy="739.0" r="7.0" fill="#4DA62C" fill-opacity="0.43" stroke="#4DA62C" stroke-opacity="0.55" stroke-width="2.6"/>
<circle cx="454.5" cy="745.5" r="7.0" fill="#4DA62C" fill-opacity="0.43" stroke="#4DA62C" stroke-opacity="0.55" stroke-width="2.6"/>
<circle cx="378.5" cy="756.0" r="7.0" fill="#4DA62C" fill-opacity="0.43" stroke="#4DA62C" stroke-opacity="0.55" stroke-width="2.6"/>
<circle cx="379.3" cy="758.6" r="7.0" fill="#4DA62C" fill-opacity="0.43" stroke="#4DA62C" stroke-opacity="0.55" stroke-width="2.6"/>
<circle cx="384.8" cy="762.7" r="7.0" fill="#4DA62C" fill-opacity="0.43" stroke="#4DA62C" stroke-opacity="0.55" stroke-width="2.6"/>
<circle cx="360.1" cy="733.2" r="7.0" fill="#4DA62C" fill-opacity="0.43" stroke="#4DA62C" stroke-opacity="0.55" stroke-width="2.6"/>
<circle cx="363.5" cy="763.2" r="7.0" fill="#4DA62C" fill-opacity="0.43" stroke="#4DA62C" stroke-opacity="0.55" stroke-width="2.6"/>
<circle cx="239.4" cy="816.1" r="7.0" fill="#3A96D8" fill-opacity="0.45" stroke="#3A96D8" stroke-opacity="0.57" stroke-width="2.6"/>
<rect x="413.2" y="765.7" width="14.0" height="14.0" fill="#000000" fill-opacity="0.42"/>
<rect x="430.8" y="775.8" width="14.0" height="14.0" fill="#000000" fill-opacity="0.42"/>
<rect x="473.4" y="762.1" width="14.0" height="14.0" fill="#000000" fill-opacity="0.42"/>
<rect x="480.9" y="756.1" width="14.0" height="14.0" fill="#000000" fill-opacity="0.42"/>
<rect x="498.9" y="772.1" width="14.0" height="14.0" fill="#000000" fill-opacity="0.42"/>
<rect x="526.0" y="743.2" width="14.0" height="14.0" fill="#000000" fill-opacity="0.42"/>
<rect x="533.0" y="757.9" width="14.0" height="14.0" fill="#000000" fill-opacity="0.42"/>
<rect x="557.1" y="748.3" width="14.0" height="14.0" fill="#000000" fill-opacity="0.42"/>
<rect x="628.6" y="748.5" width="14.0" height="14.0" fill="#000000" fill-opacity="0.42"/>
<rect x="744.9" y="732.4" width="14.0" height="14.0" fill="#000000" fill-opacity="0.42"/>
<rect x="302.5" y="788.2" width="14.0" height="14.0" fill="#E0541A" fill-opacity="0.48"/>
<rect x="304.2" y="789.0" width="14.0" height="14.0" fill="#E0541A" fill-opacity="0.48"/>
<rect x="302.0" y="787.9" width="14.0" height="14.0" fill="#E0541A" fill-opacity="0.48"/>
<rect x="303.3" y="788.5" width="14.0" height="14.0" fill="#E0541A" fill-opacity="0.48"/>
<rect x="310.0" y="789.9" width="14.0" height="14.0" fill="#E0541A" fill-opacity="0.48"/>
<rect x="316.7" y="778.2" width="14.0" height="14.0" fill="#E0541A" fill-opacity="0.48"/>
<rect x="329.2" y="771.5" width="14.0" height="14.0" fill="#E0541A" fill-opacity="0.48"/>
<rect x="331.7" y="774.0" width="14.0" height="14.0" fill="#E0541A" fill-opacity="0.48"/>
<rect x="330.6" y="782.4" width="14.0" height="14.0" fill="#E0541A" fill-opacity="0.48"/>
<rect x="337.6" y="772.3" width="14.0" height="14.0" fill="#E0541A" fill-opacity="0.48"/>
<rect x="349.3" y="770.7" width="14.0" height="14.0" fill="#E0541A" fill-opacity="0.48"/>
<rect x="351.8" y="764.0" width="14.0" height="14.0" fill="#E0541A" fill-opacity="0.48"/>
<rect x="220.2" y="805.7" width="14.0" height="14.0" fill="#D01C8B" fill-opacity="0.48"/>
<rect x="220.2" y="811.6" width="14.0" height="14.0" fill="#D01C8B" fill-opacity="0.48"/>
<rect x="257.4" y="787.4" width="14.0" height="14.0" fill="#D01C8B" fill-opacity="0.48"/>
<rect x="240.2" y="792.0" width="14.0" height="14.0" fill="#D01C8B" fill-opacity="0.48"/>
<rect x="241.5" y="794.0" width="14.0" height="14.0" fill="#D01C8B" fill-opacity="0.48"/>
<rect x="242.5" y="796.0" width="14.0" height="14.0" fill="#D01C8B" fill-opacity="0.48"/>
<rect x="243.5" y="798.0" width="14.0" height="14.0" fill="#D01C8B" fill-opacity="0.48"/>
<rect x="244.5" y="799.5" width="14.0" height="14.0" fill="#D01C8B" fill-opacity="0.48"/>
<rect x="242.0" y="797.0" width="14.0" height="14.0" fill="#D01C8B" fill-opacity="0.48"/>
<circle cx="323.7" cy="783.5" r="7.0" fill="#4DA62C" fill-opacity="0.43" stroke="#4DA62C" stroke-opacity="0.55" stroke-width="2.6"/>
<circle cx="336.2" cy="773.5" r="7.0" fill="#4DA62C" fill-opacity="0.43" stroke="#4DA62C" stroke-opacity="0.55" stroke-width="2.6"/>
<circle cx="358.8" cy="768.5" r="7.0" fill="#4DA62C" fill-opacity="0.43" stroke="#4DA62C" stroke-opacity="0.55" stroke-width="2.6"/>
<circle cx="315.4" cy="798.6" r="7.0" fill="#4DA62C" fill-opacity="0.43" stroke="#4DA62C" stroke-opacity="0.55" stroke-width="2.6"/>
<circle cx="166.7" cy="835.9" r="7.0" fill="#3A96D8" fill-opacity="0.45" stroke="#3A96D8" stroke-opacity="0.57" stroke-width="2.6"/>
<circle cx="167.5" cy="834.5" r="7.0" fill="#3A96D8" fill-opacity="0.45" stroke="#3A96D8" stroke-opacity="0.57" stroke-width="2.6"/>
<circle cx="168.0" cy="836.5" r="7.0" fill="#3A96D8" fill-opacity="0.45" stroke="#3A96D8" stroke-opacity="0.57" stroke-width="2.6"/>
<circle cx="167.4" cy="833.8" r="7.0" fill="#3A96D8" fill-opacity="0.45" stroke="#3A96D8" stroke-opacity="0.57" stroke-width="2.6"/>
<circle cx="169.4" cy="831.8" r="7.0" fill="#3A96D8" fill-opacity="0.45" stroke="#3A96D8" stroke-opacity="0.57" stroke-width="2.6"/>
<circle cx="170.1" cy="830.5" r="7.0" fill="#3A96D8" fill-opacity="0.45" stroke="#3A96D8" stroke-opacity="0.57" stroke-width="2.6"/>
<circle cx="171.3" cy="834.1" r="7.0" fill="#3A96D8" fill-opacity="0.45" stroke="#3A96D8" stroke-opacity="0.57" stroke-width="2.6"/>
<circle cx="172.0" cy="833.0" r="7.0" fill="#3A96D8" fill-opacity="0.45" stroke="#3A96D8" stroke-opacity="0.57" stroke-width="2.6"/>
<circle cx="170.7" cy="830.6" r="7.0" fill="#3A96D8" fill-opacity="0.45" stroke="#3A96D8" stroke-opacity="0.57" stroke-width="2.6"/>
<circle cx="172.3" cy="829.7" r="7.0" fill="#3A96D8" fill-opacity="0.45" stroke="#3A96D8" stroke-opacity="0.57" stroke-width="2.6"/>
<circle cx="175.9" cy="833.3" r="7.0" fill="#3A96D8" fill-opacity="0.45" stroke="#3A96D8" stroke-opacity="0.57" stroke-width="2.6"/>
<circle cx="177.3" cy="832.3" r="7.0" fill="#3A96D8" fill-opacity="0.45" stroke="#3A96D8" stroke-opacity="0.57" stroke-width="2.6"/>
<circle cx="174.9" cy="829.4" r="7.0" fill="#3A96D8" fill-opacity="0.45" stroke="#3A96D8" stroke-opacity="0.57" stroke-width="2.6"/>
<circle cx="174.4" cy="827.5" r="7.0" fill="#3A96D8" fill-opacity="0.45" stroke="#3A96D8" stroke-opacity="0.57" stroke-width="2.6"/>
<circle cx="177.6" cy="829.0" r="7.0" fill="#3A96D8" fill-opacity="0.45" stroke="#3A96D8" stroke-opacity="0.57" stroke-width="2.6"/>
<circle cx="178.6" cy="829.8" r="7.0" fill="#3A96D8" fill-opacity="0.45" stroke="#3A96D8" stroke-opacity="0.57" stroke-width="2.6"/>
<circle cx="178.5" cy="825.9" r="7.0" fill="#3A96D8" fill-opacity="0.45" stroke="#3A96D8" stroke-opacity="0.57" stroke-width="2.6"/>
<circle cx="179.0" cy="826.9" r="7.0" fill="#3A96D8" fill-opacity="0.45" stroke="#3A96D8" stroke-opacity="0.57" stroke-width="2.6"/>
<circle cx="176.3" cy="824.1" r="7.0" fill="#3A96D8" fill-opacity="0.45" stroke="#3A96D8" stroke-opacity="0.57" stroke-width="2.6"/>
<circle cx="179.1" cy="824.2" r="7.0" fill="#3A96D8" fill-opacity="0.45" stroke="#3A96D8" stroke-opacity="0.57" stroke-width="2.6"/>
<circle cx="179.6" cy="824.1" r="7.0" fill="#3A96D8" fill-opacity="0.45" stroke="#3A96D8" stroke-opacity="0.57" stroke-width="2.6"/>
<circle cx="184.1" cy="826.3" r="7.0" fill="#3A96D8" fill-opacity="0.45" stroke="#3A96D8" stroke-opacity="0.57" stroke-width="2.6"/>
<circle cx="183.0" cy="825.7" r="7.0" fill="#3A96D8" fill-opacity="0.45" stroke="#3A96D8" stroke-opacity="0.57" stroke-width="2.6"/>
<circle cx="179.2" cy="821.0" r="7.0" fill="#3A96D8" fill-opacity="0.45" stroke="#3A96D8" stroke-opacity="0.57" stroke-width="2.6"/>
<circle cx="184.2" cy="822.6" r="7.0" fill="#3A96D8" fill-opacity="0.45" stroke="#3A96D8" stroke-opacity="0.57" stroke-width="2.6"/>
<circle cx="188.4" cy="833.6" r="7.0" fill="#3A96D8" fill-opacity="0.45" stroke="#3A96D8" stroke-opacity="0.57" stroke-width="2.6"/>
<circle cx="190.1" cy="828.6" r="7.0" fill="#3A96D8" fill-opacity="0.45" stroke="#3A96D8" stroke-opacity="0.57" stroke-width="2.6"/>
</g>
<rect x="126.25" y="579.5" width="687.0" height="268.0" fill="none" stroke="#333" stroke-width="1.8"/>
<line x1="125.45" x2="814.05" y1="580.1" y2="580.1" stroke="#3a3a3a" stroke-width="3.6"/>
<rect x="126.25" y="518.5" width="687.0" height="61.0" fill="#d9d9d9" stroke="#333" stroke-width="1.8"/>
<text transform="translate(469.8,559.8) scale(1,1.035)" font-size="32.3" text-anchor="middle" fill="#1a1a1a" stroke="#1a1a1a" stroke-width="0.25">ConstrainedCosts</text>
<line x1="156.75" x2="156.75" y1="847.5" y2="858.0" stroke="#333" stroke-width="3"/>
<text transform="translate(156.2,888.7) scale(1,1.06)" font-size="32" text-anchor="middle" fill="#000" stroke="#000" stroke-width="0.3">0</text>
<line x1="313.25" x2="313.25" y1="847.5" y2="858.0" stroke="#333" stroke-width="3"/>
<text transform="translate(312.6,888.7) scale(1,1.06)" font-size="32" text-anchor="middle" fill="#000" stroke="#000" stroke-width="0.3">25</text>
<line x1="469.75" x2="469.75" y1="847.5" y2="858.0" stroke="#333" stroke-width="3"/>
<text transform="translate(469.1,888.7) scale(1,1.06)" font-size="32" text-anchor="middle" fill="#000" stroke="#000" stroke-width="0.3">50</text>
<line x1="626.25" x2="626.25" y1="847.5" y2="858.0" stroke="#333" stroke-width="3"/>
<text transform="translate(625.6,888.7) scale(1,1.06)" font-size="32" text-anchor="middle" fill="#000" stroke="#000" stroke-width="0.3">75</text>
<line x1="782.75" x2="782.75" y1="847.5" y2="858.0" stroke="#333" stroke-width="3"/>
<text transform="translate(782.1,888.7) scale(1,1.06)" font-size="32" text-anchor="middle" fill="#000" stroke="#000" stroke-width="0.3">100</text>
<line x1="115.75" x2="126.25" y1="845.00" y2="845.00" stroke="#333" stroke-width="3"/>
<text transform="translate(106.8,856.1) scale(1,1.06)" font-size="32" text-anchor="end" fill="#000" stroke="#000" stroke-width="0.3">0</text>
<line x1="115.75" x2="126.25" y1="783.00" y2="783.00" stroke="#333" stroke-width="3"/>
<text transform="translate(106.8,794.1) scale(1,1.06)" font-size="32" text-anchor="end" fill="#000" stroke="#000" stroke-width="0.3">50</text>
<line x1="115.75" x2="126.25" y1="720.50" y2="720.50" stroke="#333" stroke-width="3"/>
<text transform="translate(106.8,731.6) scale(1,1.06)" font-size="32" text-anchor="end" fill="#000" stroke="#000" stroke-width="0.3">100</text>
<line x1="115.75" x2="126.25" y1="658.50" y2="658.50" stroke="#333" stroke-width="3"/>
<text transform="translate(106.8,669.6) scale(1,1.06)" font-size="32" text-anchor="end" fill="#000" stroke="#000" stroke-width="0.3">150</text>
<line x1="115.75" x2="126.25" y1="596.25" y2="596.25" stroke="#333" stroke-width="3"/>
<text transform="translate(106.8,607.4) scale(1,1.06)" font-size="32" text-anchor="end" fill="#000" stroke="#000" stroke-width="0.3">200</text>
</g>
<g id="panelD">
<rect x="835.0" y="579.5" width="687.25" height="268.0" fill="#fff"/>
<line x1="835.0" x2="1522.25" y1="814.00" y2="814.00" stroke="#ebebeb" stroke-width="1.6"/>
<line x1="835.0" x2="1522.25" y1="752.00" y2="752.00" stroke="#ebebeb" stroke-width="1.6"/>
<line x1="835.0" x2="1522.25" y1="690.00" y2="690.00" stroke="#ebebeb" stroke-width="1.6"/>
<line x1="835.0" x2="1522.25" y1="628.00" y2="628.00" stroke="#ebebeb" stroke-width="1.6"/>
<line x1="943.34" x2="943.34" y1="579.5" y2="847.5" stroke="#ebebeb" stroke-width="1.6"/>
<line x1="1100.03" x2="1100.03" y1="579.5" y2="847.5" stroke="#ebebeb" stroke-width="1.6"/>
<line x1="1256.72" x2="1256.72" y1="579.5" y2="847.5" stroke="#ebebeb" stroke-width="1.6"/>
<line x1="1413.41" x2="1413.41" y1="579.5" y2="847.5" stroke="#ebebeb" stroke-width="1.6"/>
<line x1="835.0" x2="1522.25" y1="845.00" y2="845.00" stroke="#ebebeb" stroke-width="3"/>
<line x1="835.0" x2="1522.25" y1="783.00" y2="783.00" stroke="#ebebeb" stroke-width="3"/>
<line x1="835.0" x2="1522.25" y1="720.50" y2="720.50" stroke="#ebebeb" stroke-width="3"/>
<line x1="835.0" x2="1522.25" y1="658.50" y2="658.50" stroke="#ebebeb" stroke-width="3"/>
<line x1="835.0" x2="1522.25" y1="596.25" y2="596.25" stroke="#ebebeb" stroke-width="3"/>
<line x1="865.00" x2="865.00" y1="579.5" y2="847.5" stroke="#ebebeb" stroke-width="3"/>
<line x1="1021.69" x2="1021.69" y1="579.5" y2="847.5" stroke="#ebebeb" stroke-width="3"/>
<line x1="1178.38" x2="1178.38" y1="579.5" y2="847.5" stroke="#ebebeb" stroke-width="3"/>
<line x1="1335.06" x2="1335.06" y1="579.5" y2="847.5" stroke="#ebebeb" stroke-width="3"/>
<line x1="1491.75" x2="1491.75" y1="579.5" y2="847.5" stroke="#ebebeb" stroke-width="3"/>
<g id="ptsD">
<circle cx="885.9" cy="830.2" r="7.0" fill="#4DA62C" fill-opacity="0.43" stroke="#4DA62C" stroke-opacity="0.55" stroke-width="2.6"/>
<circle cx="883.5" cy="823.0" r="7.0" fill="#4DA62C" fill-opacity="0.43" stroke="#4DA62C" stroke-opacity="0.55" stroke-width="2.6"/>
<circle cx="887.0" cy="825.9" r="7.0" fill="#4DA62C" fill-opacity="0.43" stroke="#4DA62C" stroke-opacity="0.55" stroke-width="2.6"/>
<circle cx="882.1" cy="820.0" r="7.0" fill="#4DA62C" fill-opacity="0.43" stroke="#4DA62C" stroke-opacity="0.55" stroke-width="2.6"/>
<circle cx="885.8" cy="818.1" r="7.0" fill="#4DA62C" fill-opacity="0.43" stroke="#4DA62C" stroke-opacity="0.55" stroke-width="2.6"/>
<circle cx="885.6" cy="821.5" r="7.0" fill="#4DA62C" fill-opacity="0.43" stroke="#4DA62C" stroke-opacity="0.55" stroke-width="2.6"/>
<circle cx="895.5" cy="823.1" r="7.0" fill="#4DA62C" fill-opacity="0.43" stroke="#4DA62C" stroke-opacity="0.55" stroke-width="2.6"/>
<circle cx="887.6" cy="816.0" r="7.0" fill="#4DA62C" fill-opacity="0.43" stroke="#4DA62C" stroke-opacity="0.55" stroke-width="2.6"/>
<circle cx="891.6" cy="814.2" r="7.0" fill="#4DA62C" fill-opacity="0.43" stroke="#4DA62C" stroke-opacity="0.55" stroke-width="2.6"/>
<circle cx="892.6" cy="814.1" r="7.0" fill="#4DA62C" fill-opacity="0.43" stroke="#4DA62C" stroke-opacity="0.55" stroke-width="2.6"/>
<circle cx="899.7" cy="823.3" r="7.0" fill="#4DA62C" fill-opacity="0.43" stroke="#4DA62C" stroke-opacity="0.55" stroke-width="2.6"/>
<circle cx="895.9" cy="815.0" r="7.0" fill="#4DA62C" fill-opacity="0.43" stroke="#4DA62C" stroke-opacity="0.55" stroke-width="2.6"/>
<circle cx="895.0" cy="809.8" r="7.0" fill="#4DA62C" fill-opacity="0.43" stroke="#4DA62C" stroke-opacity="0.55" stroke-width="2.6"/>
<circle cx="901.2" cy="819.2" r="7.0" fill="#4DA62C" fill-opacity="0.43" stroke="#4DA62C" stroke-opacity="0.55" stroke-width="2.6"/>
<circle cx="906.3" cy="817.1" r="7.0" fill="#4DA62C" fill-opacity="0.43" stroke="#4DA62C" stroke-opacity="0.55" stroke-width="2.6"/>
<circle cx="904.1" cy="812.8" r="7.0" fill="#4DA62C" fill-opacity="0.43" stroke="#4DA62C" stroke-opacity="0.55" stroke-width="2.6"/>
<circle cx="903.9" cy="810.9" r="7.0" fill="#4DA62C" fill-opacity="0.43" stroke="#4DA62C" stroke-opacity="0.55" stroke-width="2.6"/>
<circle cx="909.7" cy="814.8" r="7.0" fill="#4DA62C" fill-opacity="0.43" stroke="#4DA62C" stroke-opacity="0.55" stroke-width="2.6"/>
<circle cx="904.3" cy="808.4" r="7.0" fill="#4DA62C" fill-opacity="0.43" stroke="#4DA62C" stroke-opacity="0.55" stroke-width="2.6"/>
<circle cx="911.4" cy="814.8" r="7.0" fill="#4DA62C" fill-opacity="0.43" stroke="#4DA62C" stroke-opacity="0.55" stroke-width="2.6"/>
<circle cx="904.6" cy="802.8" r="7.0" fill="#4DA62C" fill-opacity="0.43" stroke="#4DA62C" stroke-opacity="0.55" stroke-width="2.6"/>
<circle cx="910.1" cy="806.1" r="7.0" fill="#4DA62C" fill-opacity="0.43" stroke="#4DA62C" stroke-opacity="0.55" stroke-width="2.6"/>
<circle cx="912.3" cy="809.2" r="7.0" fill="#4DA62C" fill-opacity="0.43" stroke="#4DA62C" stroke-opacity="0.55" stroke-width="2.6"/>
<circle cx="913.1" cy="804.8" r="7.0" fill="#4DA62C" fill-opacity="0.43" stroke="#4DA62C" stroke-opacity="0.55" stroke-width="2.6"/>
<circle cx="909.1" cy="800.6" r="7.0" fill="#4DA62C" fill-opacity="0.43" stroke="#4DA62C" stroke-opacity="0.55" stroke-width="2.6"/>
<circle cx="913.8" cy="800.1" r="7.0" fill="#4DA62C" fill-opacity="0.43" stroke="#4DA62C" stroke-opacity="0.55" stroke-width="2.6"/>
<circle cx="910.1" cy="798.4" r="7.0" fill="#4DA62C" fill-opacity="0.43" stroke="#4DA62C" stroke-opacity="0.55" stroke-width="2.6"/>
<circle cx="919.5" cy="803.7" r="7.0" fill="#4DA62C" fill-opacity="0.43" stroke="#4DA62C" stroke-opacity="0.55" stroke-width="2.6"/>
<circle cx="921.4" cy="800.2" r="7.0" fill="#4DA62C" fill-opacity="0.43" stroke="#4DA62C" stroke-opacity="0.55" stroke-width="2.6"/>
<circle cx="920.6" cy="795.5" r="7.0" fill="#4DA62C" fill-opacity="0.43" stroke="#4DA62C" stroke-opacity="0.55" stroke-width="2.6"/>
<circle cx="923.3" cy="796.9" r="7.0" fill="#4DA62C" fill-opacity="0.43" stroke="#4DA62C" stroke-opacity="0.55" stroke-width="2.6"/>
<circle cx="919.6" cy="795.7" r="7.0" fill="#4DA62C" fill-opacity="0.43" stroke="#4DA62C" stroke-opacity="0.55" stroke-width="2.6"/>
<circle cx="918.6" cy="792.4" r="7.0" fill="#4DA62C" fill-opacity="0.43" stroke="#4DA62C" stroke-opacity="0.55" stroke-width="2.6"/>
<circle cx="927.1" cy="797.3" r="7.0" fill="#4DA62C" fill-opacity="0.43" stroke="#4DA62C" stroke-opacity="0.55" stroke-width="2.6"/>
<circle cx="921.1" cy="788.2" r="7.0" fill="#4DA62C" fill-opacity="0.43" stroke="#4DA62C" stroke-opacity="0.55" stroke-width="2.6"/>
<circle cx="924.5" cy="792.5" r="7.0" fill="#4DA62C" fill-opacity="0.43" stroke="#4DA62C" stroke-opacity="0.55" stroke-width="2.6"/>
<circle cx="927.5" cy="788.9" r="7.0" fill="#4DA62C" fill-opacity="0.43" stroke="#4DA62C" stroke-opacity="0.55" stroke-width="2.6"/>
<circle cx="931.9" cy="793.3" r="7.0" fill="#4DA62C" fill-opacity="0.43" stroke="#4DA62C" stroke-opacity="0.55" stroke-width="2.6"/>
<circle cx="934.3" cy="795.6" r="7.0" fill="#4DA62C" fill-opacity="0.43" stroke="#4DA62C" stroke-opacity="0.55" stroke-width="2.6"/>
<circle cx="927.0" cy="783.6" r="7.0" fill="#4DA62C" fill-opacity="0.43" stroke="#4DA62C" stroke-opacity="0.55" stroke-width="2.6"/>
<circle cx="937.6" cy="790.3" r="7.0" fill="#4DA62C" fill-opacity="0.43" stroke="#4DA62C" stroke-opacity="0.55" stroke-width="2.6"/>
<circle cx="934.3" cy="785.8" r="7.0" fill="#4DA62C" fill-opacity="0.43" stroke="#4DA62C" stroke-opacity="0.55" stroke-width="2.6"/>
<circle cx="934.7" cy="783.3" r="7.0" fill="#4DA62C" fill-opacity="0.43" stroke="#4DA62C" stroke-opacity="0.55" stroke-width="2.6"/>
<circle cx="937.3" cy="790.0" r="7.0" fill="#4DA62C" fill-opacity="0.43" stroke="#4DA62C" stroke-opacity="0.55" stroke-width="2.6"/>
<circle cx="940.8" cy="790.9" r="7.0" fill="#4DA62C" fill-opacity="0.43" stroke="#4DA62C" stroke-opacity="0.55" stroke-width="2.6"/>
<circle cx="942.3" cy="784.1" r="7.0" fill="#4DA62C" fill-opacity="0.43" stroke="#4DA62C" stroke-opacity="0.55" stroke-width="2.6"/>
<circle cx="938.7" cy="779.6" r="7.0" fill="#4DA62C" fill-opacity="0.43" stroke="#4DA62C" stroke-opacity="0.55" stroke-width="2.6"/>
<circle cx="945.0" cy="787.1" r="7.0" fill="#4DA62C" fill-opacity="0.43" stroke="#4DA62C" stroke-opacity="0.55" stroke-width="2.6"/>
<circle cx="937.8" cy="777.2" r="7.0" fill="#4DA62C" fill-opacity="0.43" stroke="#4DA62C" stroke-opacity="0.55" stroke-width="2.6"/>
<circle cx="943.1" cy="774.4" r="7.0" fill="#4DA62C" fill-opacity="0.43" stroke="#4DA62C" stroke-opacity="0.55" stroke-width="2.6"/>
<circle cx="943.3" cy="774.0" r="7.0" fill="#4DA62C" fill-opacity="0.43" stroke="#4DA62C" stroke-opacity="0.55" stroke-width="2.6"/>
<circle cx="946.2" cy="778.7" r="7.0" fill="#4DA62C" fill-opacity="0.43" stroke="#4DA62C" stroke-opacity="0.55" stroke-width="2.6"/>
<circle cx="945.2" cy="773.7" r="7.0" fill="#4DA62C" fill-opacity="0.43" stroke="#4DA62C" stroke-opacity="0.55" stroke-width="2.6"/>
<circle cx="949.1" cy="777.7" r="7.0" fill="#4DA62C" fill-opacity="0.43" stroke="#4DA62C" stroke-opacity="0.55" stroke-width="2.6"/>
<circle cx="955.9" cy="778.9" r="7.0" fill="#4DA62C" fill-opacity="0.43" stroke="#4DA62C" stroke-opacity="0.55" stroke-width="2.6"/>
<circle cx="948.7" cy="768.0" r="7.0" fill="#4DA62C" fill-opacity="0.43" stroke="#4DA62C" stroke-opacity="0.55" stroke-width="2.6"/>
<circle cx="954.5" cy="777.8" r="7.0" fill="#4DA62C" fill-opacity="0.43" stroke="#4DA62C" stroke-opacity="0.55" stroke-width="2.6"/>
<circle cx="954.2" cy="768.7" r="7.0" fill="#4DA62C" fill-opacity="0.43" stroke="#4DA62C" stroke-opacity="0.55" stroke-width="2.6"/>
<circle cx="952.0" cy="766.3" r="7.0" fill="#4DA62C" fill-opacity="0.43" stroke="#4DA62C" stroke-opacity="0.55" stroke-width="2.6"/>
<circle cx="960.3" cy="776.3" r="7.0" fill="#4DA62C" fill-opacity="0.43" stroke="#4DA62C" stroke-opacity="0.55" stroke-width="2.6"/>
<circle cx="1036.4" cy="795.5" r="7.0" fill="#4DA62C" fill-opacity="0.43" stroke="#4DA62C" stroke-opacity="0.55" stroke-width="2.6"/>
<circle cx="1032.4" cy="790.0" r="7.0" fill="#4DA62C" fill-opacity="0.43" stroke="#4DA62C" stroke-opacity="0.55" stroke-width="2.6"/>
<circle cx="1035.0" cy="779.9" r="7.0" fill="#4DA62C" fill-opacity="0.43" stroke="#4DA62C" stroke-opacity="0.55" stroke-width="2.6"/>
<circle cx="1041.3" cy="779.3" r="7.0" fill="#4DA62C" fill-opacity="0.43" stroke="#4DA62C" stroke-opacity="0.55" stroke-width="2.6"/>
<circle cx="1044.4" cy="775.4" r="7.0" fill="#4DA62C" fill-opacity="0.43" stroke="#4DA62C" stroke-opacity="0.55" stroke-width="2.6"/>
<circle cx="1054.0" cy="780.1" r="7.0" fill="#4DA62C" fill-opacity="0.43" stroke="#4DA62C" stroke-opacity="0.55" stroke-width="2.6"/>
<circle cx="1055.7" cy="770.5" r="7.0" fill="#4DA62C" fill-opacity="0.43" stroke="#4DA62C" stroke-opacity="0.55" stroke-width="2.6"/>
<circle cx="1064.6" cy="778.9" r="7.0" fill="#4DA62C" fill-opacity="0.43" stroke="#4DA62C" stroke-opacity="0.55" stroke-width="2.6"/>
<circle cx="1069.9" cy="771.1" r="7.0" fill="#4DA62C" fill-opacity="0.43" stroke="#4DA62C" stroke-opacity="0.55" stroke-width="2.6"/>
<circle cx="1072.6" cy="774.2" r="7.0" fill="#4DA62C" fill-opacity="0.43" stroke="#4DA62C" stroke-opacity="0.55" stroke-width="2.6"/>
<circle cx="1073.0" cy="764.5" r="7.0" fill="#4DA62C" fill-opacity="0.43" stroke="#4DA62C" stroke-opacity="0.55" stroke-width="2.6"/>
<circle cx="1082.8" cy="770.7" r="7.0" fill="#4DA62C" fill-opacity="0.43" stroke="#4DA62C" stroke-opacity="0.55" stroke-width="2.6"/>
<circle cx="925.2" cy="777.7" r="7.0" fill="#4DA62C" fill-opacity="0.43" stroke="#4DA62C" stroke-opacity="0.55" stroke-width="2.6"/>
<circle cx="962.7" cy="748.8" r="7.0" fill="#4DA62C" fill-opacity="0.43" stroke="#4DA62C" stroke-opacity="0.55" stroke-width="2.6"/>
<circle cx="970.2" cy="765.2" r="7.0" fill="#4DA62C" fill-opacity="0.43" stroke="#4DA62C" stroke-opacity="0.55" stroke-width="2.6"/>
<circle cx="956.9" cy="761.8" r="7.0" fill="#4DA62C" fill-opacity="0.43" stroke="#4DA62C" stroke-opacity="0.55" stroke-width="2.6"/>
<circle cx="954.4" cy="763.5" r="7.0" fill="#4DA62C" fill-opacity="0.43" stroke="#4DA62C" stroke-opacity="0.55" stroke-width="2.6"/>
<circle cx="983.6" cy="749.3" r="7.0" fill="#4DA62C" fill-opacity="0.43" stroke="#4DA62C" stroke-opacity="0.55" stroke-width="2.6"/>
<circle cx="984.4" cy="750.1" r="7.0" fill="#4DA62C" fill-opacity="0.43" stroke="#4DA62C" stroke-opacity="0.55" stroke-width="2.6"/>
<circle cx="997.0" cy="746.8" r="7.0" fill="#4DA62C" fill-opacity="0.43" stroke="#4DA62C" stroke-opacity="0.55" stroke-width="2.6"/>
<circle cx="997.8" cy="751.0" r="7.0" fill="#4DA62C" fill-opacity="0.43" stroke="#4DA62C" stroke-opacity="0.55" stroke-width="2.6"/>
<circle cx="1004.5" cy="757.6" r="7.0" fill="#4DA62C" fill-opacity="0.43" stroke="#4DA62C" stroke-opacity="0.55" stroke-width="2.6"/>
<circle cx="997.0" cy="727.6" r="7.0" fill="#4DA62C" fill-opacity="0.43" stroke="#4DA62C" stroke-opacity="0.55" stroke-width="2.6"/>
<circle cx="991.1" cy="765.2" r="7.0" fill="#4DA62C" fill-opacity="0.43" stroke="#4DA62C" stroke-opacity="0.55" stroke-width="2.6"/>
<circle cx="993.6" cy="768.5" r="7.0" fill="#4DA62C" fill-opacity="0.43" stroke="#4DA62C" stroke-opacity="0.55" stroke-width="2.6"/>
<circle cx="994.5" cy="774.3" r="7.0" fill="#4DA62C" fill-opacity="0.43" stroke="#4DA62C" stroke-opacity="0.55" stroke-width="2.6"/>
<circle cx="1019.5" cy="718.7" r="7.0" fill="#4DA62C" fill-opacity="0.43" stroke="#4DA62C" stroke-opacity="0.55" stroke-width="2.6"/>
<circle cx="1023.7" cy="734.3" r="7.0" fill="#4DA62C" fill-opacity="0.43" stroke="#4DA62C" stroke-opacity="0.55" stroke-width="2.6"/>
<circle cx="1033.7" cy="737.6" r="7.0" fill="#4DA62C" fill-opacity="0.43" stroke="#4DA62C" stroke-opacity="0.55" stroke-width="2.6"/>
<circle cx="1037.0" cy="741.8" r="7.0" fill="#4DA62C" fill-opacity="0.43" stroke="#4DA62C" stroke-opacity="0.55" stroke-width="2.6"/>
<circle cx="1044.6" cy="718.7" r="7.0" fill="#4DA62C" fill-opacity="0.43" stroke="#4DA62C" stroke-opacity="0.55" stroke-width="2.6"/>
<circle cx="1050.4" cy="722.6" r="7.0" fill="#4DA62C" fill-opacity="0.43" stroke="#4DA62C" stroke-opacity="0.55" stroke-width="2.6"/>
<circle cx="1047.1" cy="729.2" r="7.0" fill="#4DA62C" fill-opacity="0.43" stroke="#4DA62C" stroke-opacity="0.55" stroke-width="2.6"/>
<circle cx="1057.1" cy="736.8" r="7.0" fill="#4DA62C" fill-opacity="0.43" stroke="#4DA62C" stroke-opacity="0.55" stroke-width="2.6"/>
<circle cx="1033.7" cy="769.3" r="7.0" fill="#4DA62C" fill-opacity="0.43" stroke="#4DA62C" stroke-opacity="0.55" stroke-width="2.6"/>
<circle cx="1045.4" cy="766.0" r="7.0" fill="#4DA62C" fill-opacity="0.43" stroke="#4DA62C" stroke-opacity="0.55" stroke-width="2.6"/>
<circle cx="1053.7" cy="768.5" r="7.0" fill="#4DA62C" fill-opacity="0.43" stroke="#4DA62C" stroke-opacity="0.55" stroke-width="2.6"/>
<circle cx="1010.3" cy="791.9" r="7.0" fill="#4DA62C" fill-opacity="0.43" stroke="#4DA62C" stroke-opacity="0.55" stroke-width="2.6"/>
<circle cx="1025.4" cy="788.5" r="7.0" fill="#4DA62C" fill-opacity="0.43" stroke="#4DA62C" stroke-opacity="0.55" stroke-width="2.6"/>
<circle cx="1035.4" cy="776.8" r="7.0" fill="#4DA62C" fill-opacity="0.43" stroke="#4DA62C" stroke-opacity="0.55" stroke-width="2.6"/>
<circle cx="1058.8" cy="780.2" r="7.0" fill="#4DA62C" fill-opacity="0.43" stroke="#4DA62C" stroke-opacity="0.55" stroke-width="2.6"/>
<circle cx="1050.4" cy="788.5" r="7.0" fill="#4DA62C" fill-opacity="0.43" stroke="#4DA62C" stroke-opacity="0.55" stroke-width="2.6"/>
<circle cx="1129.3" cy="686.2" r="7.0" fill="#4DA62C" fill-opacity="0.43" stroke="#4DA62C" stroke-opacity="0.55" stroke-width="2.6"/>
<circle cx="1133.5" cy="691.7" r="7.0" fill="#4DA62C" fill-opacity="0.43" stroke="#4DA62C" stroke-opacity="0.55" stroke-width="2.6"/>
<circle cx="1154.4" cy="690.1" r="7.0" fill="#4DA62C" fill-opacity="0.43" stroke="#4DA62C" stroke-opacity="0.55" stroke-width="2.6"/>
<circle cx="1154.4" cy="695.1" r="7.0" fill="#4DA62C" fill-opacity="0.43" stroke="#4DA62C" stroke-opacity="0.55" stroke-width="2.6"/>
<circle cx="1168.6" cy="683.9" r="7.0" fill="#4DA62C" fill-opacity="0.43" stroke="#4DA62C" stroke-opacity="0.55" stroke-width="2.6"/>
<circle cx="1294.7" cy="696.7" r="7.0" fill="#4DA62C" fill-opacity="0.43" stroke="#4DA62C" stroke-opacity="0.55" stroke-width="2.6"/>
<circle cx="1283.5" cy="703.9" r="7.0" fill="#4DA62C" fill-opacity="0.43" stroke="#4DA62C" stroke-opacity="0.55" stroke-width="2.6"/>
<circle cx="1080.1" cy="717.3" r="7.0" fill="#4DA62C" fill-opacity="0.43" stroke="#4DA62C" stroke-opacity="0.55" stroke-width="2.6"/>
<circle cx="1121.0" cy="708.4" r="7.0" fill="#4DA62C" fill-opacity="0.43" stroke="#4DA62C" stroke-opacity="0.55" stroke-width="2.6"/>
<circle cx="1116.0" cy="715.1" r="7.0" fill="#4DA62C" fill-opacity="0.43" stroke="#4DA62C" stroke-opacity="0.55" stroke-width="2.6"/>
<circle cx="1116.8" cy="719.3" r="7.0" fill="#4DA62C" fill-opacity="0.43" stroke="#4DA62C" stroke-opacity="0.55" stroke-width="2.6"/>
<circle cx="1116.8" cy="721.8" r="7.0" fill="#4DA62C" fill-opacity="0.43" stroke="#4DA62C" stroke-opacity="0.55" stroke-width="2.6"/>
<circle cx="1137.7" cy="711.8" r="7.0" fill="#4DA62C" fill-opacity="0.43" stroke="#4DA62C" stroke-opacity="0.55" stroke-width="2.6"/>
<circle cx="1161.1" cy="721.0" r="7.0" fill="#4DA62C" fill-opacity="0.43" stroke="#4DA62C" stroke-opacity="0.55" stroke-width="2.6"/>
<circle cx="1065.0" cy="737.7" r="7.0" fill="#4DA62C" fill-opacity="0.43" stroke="#4DA62C" stroke-opacity="0.55" stroke-width="2.6"/>
<circle cx="1189.4" cy="733.5" r="7.0" fill="#4DA62C" fill-opacity="0.43" stroke="#4DA62C" stroke-opacity="0.55" stroke-width="2.6"/>
<circle cx="1192.0" cy="735.2" r="7.0" fill="#4DA62C" fill-opacity="0.43" stroke="#4DA62C" stroke-opacity="0.55" stroke-width="2.6"/>
<circle cx="1227.4" cy="728.0" r="7.0" fill="#4DA62C" fill-opacity="0.43" stroke="#4DA62C" stroke-opacity="0.55" stroke-width="2.6"/>
<circle cx="1281.3" cy="744.8" r="7.0" fill="#4DA62C" fill-opacity="0.43" stroke="#4DA62C" stroke-opacity="0.55" stroke-width="2.6"/>
<circle cx="1143.5" cy="739.3" r="7.0" fill="#4DA62C" fill-opacity="0.43" stroke="#4DA62C" stroke-opacity="0.55" stroke-width="2.6"/>
<circle cx="1146.9" cy="752.7" r="7.0" fill="#4DA62C" fill-opacity="0.43" stroke="#4DA62C" stroke-opacity="0.55" stroke-width="2.6"/>
<circle cx="1146.0" cy="756.9" r="7.0" fill="#4DA62C" fill-opacity="0.43" stroke="#4DA62C" stroke-opacity="0.55" stroke-width="2.6"/>
<circle cx="1115.1" cy="751.5" r="7.0" fill="#4DA62C" fill-opacity="0.43" stroke="#4DA62C" stroke-opacity="0.55" stroke-width="2.6"/>
<circle cx="1090.9" cy="750.2" r="7.0" fill="#4DA62C" fill-opacity="0.43" stroke="#4DA62C" stroke-opacity="0.55" stroke-width="2.6"/>
<circle cx="1070.0" cy="753.5" r="7.0" fill="#4DA62C" fill-opacity="0.43" stroke="#4DA62C" stroke-opacity="0.55" stroke-width="2.6"/>
<circle cx="1065.9" cy="756.9" r="7.0" fill="#4DA62C" fill-opacity="0.43" stroke="#4DA62C" stroke-opacity="0.55" stroke-width="2.6"/>
<circle cx="1084.2" cy="757.7" r="7.0" fill="#4DA62C" fill-opacity="0.43" stroke="#4DA62C" stroke-opacity="0.55" stroke-width="2.6"/>
<circle cx="1166.1" cy="759.7" r="7.0" fill="#4DA62C" fill-opacity="0.43" stroke="#4DA62C" stroke-opacity="0.55" stroke-width="2.6"/>
<circle cx="1177.8" cy="758.9" r="7.0" fill="#4DA62C" fill-opacity="0.43" stroke="#4DA62C" stroke-opacity="0.55" stroke-width="2.6"/>
<circle cx="1100.9" cy="761.0" r="7.0" fill="#4DA62C" fill-opacity="0.43" stroke="#4DA62C" stroke-opacity="0.55" stroke-width="2.6"/>
<circle cx="1102.6" cy="763.5" r="7.0" fill="#4DA62C" fill-opacity="0.43" stroke="#4DA62C" stroke-opacity="0.55" stroke-width="2.6"/>
<circle cx="1129.3" cy="762.7" r="7.0" fill="#4DA62C" fill-opacity="0.43" stroke="#4DA62C" stroke-opacity="0.55" stroke-width="2.6"/>
<circle cx="1121.0" cy="767.7" r="7.0" fill="#4DA62C" fill-opacity="0.43" stroke="#4DA62C" stroke-opacity="0.55" stroke-width="2.6"/>
<circle cx="1155.2" cy="768.6" r="7.0" fill="#4DA62C" fill-opacity="0.43" stroke="#4DA62C" stroke-opacity="0.55" stroke-width="2.6"/>
<circle cx="1152.7" cy="771.9" r="7.0" fill="#4DA62C" fill-opacity="0.43" stroke="#4DA62C" stroke-opacity="0.55" stroke-width="2.6"/>
<circle cx="1196.1" cy="773.9" r="7.0" fill="#4DA62C" fill-opacity="0.43" stroke="#4DA62C" stroke-opacity="0.55" stroke-width="2.6"/>
<circle cx="1111.8" cy="777.7" r="7.0" fill="#4DA62C" fill-opacity="0.43" stroke="#4DA62C" stroke-opacity="0.55" stroke-width="2.6"/>
<circle cx="1125.2" cy="776.9" r="7.0" fill="#4DA62C" fill-opacity="0.43" stroke="#4DA62C" stroke-opacity="0.55" stroke-width="2.6"/>
<circle cx="1137.7" cy="778.6" r="7.0" fill="#4DA62C" fill-opacity="0.43" stroke="#4DA62C" stroke-opacity="0.55" stroke-width="2.6"/>
<circle cx="1096.8" cy="776.9" r="7.0" fill="#4DA62C" fill-opacity="0.43" stroke="#4DA62C" stroke-opacity="0.55" stroke-width="2.6"/>
<circle cx="1100.1" cy="780.2" r="7.0" fill="#4DA62C" fill-opacity="0.43" stroke="#4DA62C" stroke-opacity="0.55" stroke-width="2.6"/>
<circle cx="1093.4" cy="773.6" r="7.0" fill="#4DA62C" fill-opacity="0.43" stroke="#4DA62C" stroke-opacity="0.55" stroke-width="2.6"/>
<circle cx="1083.4" cy="791.9" r="7.0" fill="#4DA62C" fill-opacity="0.43" stroke="#4DA62C" stroke-opacity="0.55" stroke-width="2.6"/>
<circle cx="1103.8" cy="792.4" r="7.0" fill="#4DA62C" fill-opacity="0.43" stroke="#4DA62C" stroke-opacity="0.55" stroke-width="2.6"/>
<circle cx="1064.2" cy="786.9" r="7.0" fill="#4DA62C" fill-opacity="0.43" stroke="#4DA62C" stroke-opacity="0.55" stroke-width="2.6"/>
<circle cx="1076.7" cy="776.9" r="7.0" fill="#4DA62C" fill-opacity="0.43" stroke="#4DA62C" stroke-opacity="0.55" stroke-width="2.6"/>
<circle cx="1151.9" cy="776.9" r="7.0" fill="#4DA62C" fill-opacity="0.43" stroke="#4DA62C" stroke-opacity="0.55" stroke-width="2.6"/>
<circle cx="1234.5" cy="660.5" r="7.0" fill="#4DA62C" fill-opacity="0.43" stroke="#4DA62C" stroke-opacity="0.55" stroke-width="2.6"/>
<circle cx="1269.6" cy="646.5" r="7.0" fill="#4DA62C" fill-opacity="0.43" stroke="#4DA62C" stroke-opacity="0.55" stroke-width="2.6"/>
<circle cx="1265.4" cy="656.8" r="7.0" fill="#4DA62C" fill-opacity="0.43" stroke="#4DA62C" stroke-opacity="0.55" stroke-width="2.6"/>
<circle cx="1409.4" cy="641.4" r="7.0" fill="#4DA62C" fill-opacity="0.43" stroke="#4DA62C" stroke-opacity="0.55" stroke-width="2.6"/>
<circle cx="1301.7" cy="648.4" r="7.0" fill="#4DA62C" fill-opacity="0.43" stroke="#4DA62C" stroke-opacity="0.55" stroke-width="2.6"/>
<circle cx="1316.3" cy="671.5" r="7.0" fill="#4DA62C" fill-opacity="0.43" stroke="#4DA62C" stroke-opacity="0.55" stroke-width="2.6"/>
<circle cx="1378.2" cy="690.2" r="7.0" fill="#4DA62C" fill-opacity="0.43" stroke="#4DA62C" stroke-opacity="0.55" stroke-width="2.6"/>
<rect x="1122.0" y="765.7" width="14.0" height="14.0" fill="#000000" fill-opacity="0.42"/>
<rect x="1139.5" y="775.7" width="14.0" height="14.0" fill="#000000" fill-opacity="0.42"/>
<rect x="1182.1" y="762.1" width="14.0" height="14.0" fill="#000000" fill-opacity="0.42"/>
<rect x="1189.6" y="755.7" width="14.0" height="14.0" fill="#000000" fill-opacity="0.42"/>
<rect x="1207.8" y="772.1" width="14.0" height="14.0" fill="#000000" fill-opacity="0.42"/>
<rect x="1234.7" y="743.2" width="14.0" height="14.0" fill="#000000" fill-opacity="0.42"/>
<rect x="1241.7" y="757.7" width="14.0" height="14.0" fill="#000000" fill-opacity="0.42"/>
<rect x="1265.9" y="748.5" width="14.0" height="14.0" fill="#000000" fill-opacity="0.42"/>
<rect x="1453.9" y="732.4" width="14.0" height="14.0" fill="#000000" fill-opacity="0.42"/>
<rect x="1337.3" y="748.3" width="14.0" height="14.0" fill="#000000" fill-opacity="0.42"/>
<rect x="1010.8" y="787.4" width="14.0" height="14.0" fill="#E0541A" fill-opacity="0.48"/>
<rect x="1013.3" y="789.9" width="14.0" height="14.0" fill="#E0541A" fill-opacity="0.48"/>
<rect x="1011.3" y="787.9" width="14.0" height="14.0" fill="#E0541A" fill-opacity="0.48"/>
<rect x="1012.5" y="788.5" width="14.0" height="14.0" fill="#E0541A" fill-opacity="0.48"/>
<rect x="1018.4" y="790.7" width="14.0" height="14.0" fill="#E0541A" fill-opacity="0.48"/>
<rect x="1025.9" y="779.9" width="14.0" height="14.0" fill="#E0541A" fill-opacity="0.48"/>
<rect x="1038.4" y="771.5" width="14.0" height="14.0" fill="#E0541A" fill-opacity="0.48"/>
<rect x="1040.9" y="774.9" width="14.0" height="14.0" fill="#E0541A" fill-opacity="0.48"/>
<rect x="1040.1" y="782.4" width="14.0" height="14.0" fill="#E0541A" fill-opacity="0.48"/>
<rect x="1047.6" y="773.2" width="14.0" height="14.0" fill="#E0541A" fill-opacity="0.48"/>
<rect x="1058.4" y="769.8" width="14.0" height="14.0" fill="#E0541A" fill-opacity="0.48"/>
<rect x="1060.9" y="764.0" width="14.0" height="14.0" fill="#E0541A" fill-opacity="0.48"/>
<rect x="929.3" y="806.6" width="14.0" height="14.0" fill="#D01C8B" fill-opacity="0.48"/>
<rect x="929.3" y="811.6" width="14.0" height="14.0" fill="#D01C8B" fill-opacity="0.48"/>
<rect x="966.6" y="787.9" width="14.0" height="14.0" fill="#D01C8B" fill-opacity="0.48"/>
<rect x="949.9" y="793.2" width="14.0" height="14.0" fill="#D01C8B" fill-opacity="0.48"/>
<rect x="951.6" y="798.2" width="14.0" height="14.0" fill="#D01C8B" fill-opacity="0.48"/>
<rect x="947.4" y="799.9" width="14.0" height="14.0" fill="#D01C8B" fill-opacity="0.48"/>
<rect x="949.9" y="796.6" width="14.0" height="14.0" fill="#D01C8B" fill-opacity="0.48"/>
<rect x="953.2" y="799.9" width="14.0" height="14.0" fill="#D01C8B" fill-opacity="0.48"/>
<rect x="944.9" y="798.2" width="14.0" height="14.0" fill="#D01C8B" fill-opacity="0.48"/>
<circle cx="1067.1" cy="770.2" r="7.0" fill="#4DA62C" fill-opacity="0.43" stroke="#4DA62C" stroke-opacity="0.55" stroke-width="2.6"/>
<circle cx="876.5" cy="827.6" r="7.0" fill="#3A96D8" fill-opacity="0.45" stroke="#3A96D8" stroke-opacity="0.57" stroke-width="2.6"/>
<circle cx="877.4" cy="827.4" r="7.0" fill="#3A96D8" fill-opacity="0.45" stroke="#3A96D8" stroke-opacity="0.57" stroke-width="2.6"/>
<circle cx="879.7" cy="827.3" r="7.0" fill="#3A96D8" fill-opacity="0.45" stroke="#3A96D8" stroke-opacity="0.57" stroke-width="2.6"/>
<circle cx="881.1" cy="831.2" r="7.0" fill="#3A96D8" fill-opacity="0.45" stroke="#3A96D8" stroke-opacity="0.57" stroke-width="2.6"/>
<circle cx="882.4" cy="830.2" r="7.0" fill="#3A96D8" fill-opacity="0.45" stroke="#3A96D8" stroke-opacity="0.57" stroke-width="2.6"/>
<circle cx="881.3" cy="829.1" r="7.0" fill="#3A96D8" fill-opacity="0.45" stroke="#3A96D8" stroke-opacity="0.57" stroke-width="2.6"/>
<circle cx="881.9" cy="827.9" r="7.0" fill="#3A96D8" fill-opacity="0.45" stroke="#3A96D8" stroke-opacity="0.57" stroke-width="2.6"/>
<circle cx="883.4" cy="829.0" r="7.0" fill="#3A96D8" fill-opacity="0.45" stroke="#3A96D8" stroke-opacity="0.57" stroke-width="2.6"/>
<circle cx="884.8" cy="827.6" r="7.0" fill="#3A96D8" fill-opacity="0.45" stroke="#3A96D8" stroke-opacity="0.57" stroke-width="2.6"/>
<circle cx="884.3" cy="827.3" r="7.0" fill="#3A96D8" fill-opacity="0.45" stroke="#3A96D8" stroke-opacity="0.57" stroke-width="2.6"/>
<circle cx="885.0" cy="828.8" r="7.0" fill="#3A96D8" fill-opacity="0.45" stroke="#3A96D8" stroke-opacity="0.57" stroke-width="2.6"/>
<circle cx="886.5" cy="828.0" r="7.0" fill="#3A96D8" fill-opacity="0.45" stroke="#3A96D8" stroke-opacity="0.57" stroke-width="2.6"/>
<circle cx="886.3" cy="827.1" r="7.0" fill="#3A96D8" fill-opacity="0.45" stroke="#3A96D8" stroke-opacity="0.57" stroke-width="2.6"/>
<circle cx="883.9" cy="822.4" r="7.0" fill="#3A96D8" fill-opacity="0.45" stroke="#3A96D8" stroke-opacity="0.57" stroke-width="2.6"/>
<circle cx="887.4" cy="827.2" r="7.0" fill="#3A96D8" fill-opacity="0.45" stroke="#3A96D8" stroke-opacity="0.57" stroke-width="2.6"/>
<circle cx="886.7" cy="823.6" r="7.0" fill="#3A96D8" fill-opacity="0.45" stroke="#3A96D8" stroke-opacity="0.57" stroke-width="2.6"/>
<circle cx="886.6" cy="822.8" r="7.0" fill="#3A96D8" fill-opacity="0.45" stroke="#3A96D8" stroke-opacity="0.57" stroke-width="2.6"/>
<circle cx="887.4" cy="822.3" r="7.0" fill="#3A96D8" fill-opacity="0.45" stroke="#3A96D8" stroke-opacity="0.57" stroke-width="2.6"/>
<circle cx="888.5" cy="822.7" r="7.0" fill="#3A96D8" fill-opacity="0.45" stroke="#3A96D8" stroke-opacity="0.57" stroke-width="2.6"/>
<circle cx="888.4" cy="820.1" r="7.0" fill="#3A96D8" fill-opacity="0.45" stroke="#3A96D8" stroke-opacity="0.57" stroke-width="2.6"/>
<circle cx="906.8" cy="796.9" r="7.0" fill="none" stroke="#3A96D8" stroke-opacity="0.6" stroke-width="2.6"/>
<circle cx="909.3" cy="800.2" r="7.0" fill="none" stroke="#3A96D8" stroke-opacity="0.6" stroke-width="2.6"/>
<circle cx="911.8" cy="798.6" r="7.0" fill="none" stroke="#3A96D8" stroke-opacity="0.6" stroke-width="2.6"/>
<circle cx="905.1" cy="803.6" r="7.0" fill="none" stroke="#3A96D8" stroke-opacity="0.6" stroke-width="2.6"/>
<circle cx="907.6" cy="806.9" r="7.0" fill="none" stroke="#3A96D8" stroke-opacity="0.6" stroke-width="2.6"/>
<circle cx="910.1" cy="795.2" r="7.0" fill="none" stroke="#3A96D8" stroke-opacity="0.6" stroke-width="2.6"/>
<circle cx="913.5" cy="801.9" r="7.0" fill="none" stroke="#3A96D8" stroke-opacity="0.6" stroke-width="2.6"/>
<circle cx="906.8" cy="810.2" r="7.0" fill="none" stroke="#3A96D8" stroke-opacity="0.6" stroke-width="2.6"/>
<circle cx="933.0" cy="802.7" r="7.0" fill="none" stroke="#3A96D8" stroke-opacity="0.6" stroke-width="2.6"/>
</g>
<rect x="835.0" y="579.5" width="687.25" height="268.0" fill="none" stroke="#333" stroke-width="1.8"/>
<line x1="834.2" x2="1523.05" y1="580.1" y2="580.1" stroke="#3a3a3a" stroke-width="3.6"/>
<rect x="835.0" y="518.5" width="687.25" height="61.0" fill="#d9d9d9" stroke="#333" stroke-width="1.8"/>
<text transform="translate(1178.6,559.8) scale(1,1.035)" font-size="32.3" text-anchor="middle" fill="#1a1a1a" stroke="#1a1a1a" stroke-width="0.25">UnconstrainedCosts</text>
<line x1="865.00" x2="865.00" y1="847.5" y2="858.0" stroke="#333" stroke-width="3"/>
<text transform="translate(864.4,888.7) scale(1,1.06)" font-size="32" text-anchor="middle" fill="#000" stroke="#000" stroke-width="0.3">0</text>
<line x1="1021.69" x2="1021.69" y1="847.5" y2="858.0" stroke="#333" stroke-width="3"/>
<text transform="translate(1021.1,888.7) scale(1,1.06)" font-size="32" text-anchor="middle" fill="#000" stroke="#000" stroke-width="0.3">25</text>
<line x1="1178.38" x2="1178.38" y1="847.5" y2="858.0" stroke="#333" stroke-width="3"/>
<text transform="translate(1177.8,888.7) scale(1,1.06)" font-size="32" text-anchor="middle" fill="#000" stroke="#000" stroke-width="0.3">50</text>
<line x1="1335.06" x2="1335.06" y1="847.5" y2="858.0" stroke="#333" stroke-width="3"/>
<text transform="translate(1334.5,888.7) scale(1,1.06)" font-size="32" text-anchor="middle" fill="#000" stroke="#000" stroke-width="0.3">75</text>
<line x1="1491.75" x2="1491.75" y1="847.5" y2="858.0" stroke="#333" stroke-width="3"/>
<text transform="translate(1491.2,888.7) scale(1,1.06)" font-size="32" text-anchor="middle" fill="#000" stroke="#000" stroke-width="0.3">100</text>
</g>
<text transform="translate(810.5,468.8) scale(1,1.035)" font-size="40.6" text-anchor="middle" fill="#000" stroke="#000" stroke-width="0.3">Effective population size</text>
<text transform="translate(823,935.8) scale(1,1.035)" font-size="40.6" text-anchor="middle" fill="#000" stroke="#000" stroke-width="0.3">Effective population size</text>
<text transform="translate(29.2,246.5) rotate(-90) scale(1,1.035)" font-size="40.6" text-anchor="middle" fill="#000" stroke="#000" stroke-width="0.3">Genetic mean</text>
<text transform="translate(29.2,713.5) rotate(-90) scale(1,1.035)" font-size="40.6" text-anchor="middle" fill="#000" stroke="#000" stroke-width="0.3">Efficiency</text>
<rect x="189.8" y="5.0" width="14.0" height="14.0" fill="#000000" fill-opacity="0.42"/>
<text transform="translate(236.0,22.8) scale(1,1.035)" font-size="32.5" fill="#000" stroke="#000" stroke-width="0.3">Conv</text>
<rect x="339.2" y="5.0" width="14.0" height="14.0" fill="#E0541A" fill-opacity="0.48"/>
<text transform="translate(385.5,22.8) scale(1,1.035)" font-size="32.5" fill="#000" stroke="#000" stroke-width="0.3">ConvP</text>
<rect x="506.5" y="5.0" width="14.0" height="14.0" fill="#D01C8B" fill-opacity="0.48"/>
<text transform="translate(553.0,22.8) scale(1,1.035)" font-size="32.5" fill="#000" stroke="#000" stroke-width="0.3">ConvH</text>
<circle cx="686.3" cy="12.0" r="7.0" fill="#3A96D8" fill-opacity="0.45" stroke="#3A96D8" stroke-opacity="0.57" stroke-width="2.6"/>
<text transform="translate(726.0,22.8) scale(1,1.035)" font-size="32.5" fill="#000" stroke="#000" stroke-width="0.3">TwoPartTS</text>
<circle cx="914.8" cy="12.0" r="7.0" fill="none" stroke="#3A96D8" stroke-opacity="0.6" stroke-width="2.6"/>
<text transform="translate(954.0,22.8) scale(1,1.035)" font-size="32.5" fill="#000" stroke="#000" stroke-width="0.3">TwoPartTS+</text>
<circle cx="1161.0" cy="12.0" r="7.0" fill="#4DA62C" fill-opacity="0.43" stroke="#4DA62C" stroke-opacity="0.55" stroke-width="2.6"/>
<text transform="translate(1201.5,22.8) scale(1,1.035)" font-size="32.5" fill="#000" stroke="#000" stroke-width="0.3">TwoPartOCS</text>
</svg>
</body></html>
